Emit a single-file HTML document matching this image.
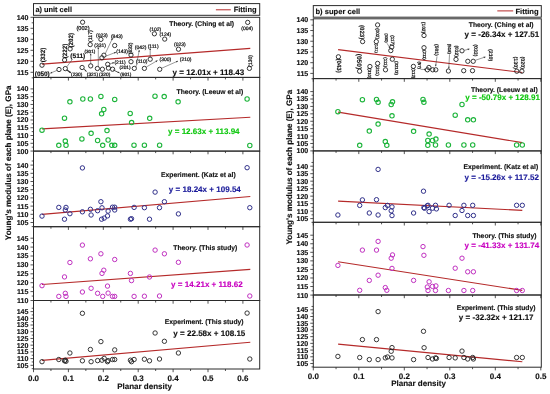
<!DOCTYPE html>
<html><head><meta charset="utf-8"><style>
html,body{margin:0;padding:0;background:#fff;}
body{width:550px;height:394px;overflow:hidden;}
svg{display:block;font-family:"Liberation Sans", sans-serif;will-change:transform;text-rendering:geometricPrecision;}
</style></head><body>
<svg width="550" height="394" viewBox="0 0 550 394">
<rect width="550" height="394" fill="#fff"/>
<rect x="33.50" y="3.60" width="226.20" height="11.70" fill="none" stroke="#2a2a2a" stroke-width="1"/>
<rect x="33.50" y="17.30" width="226.20" height="60.10" fill="none" stroke="#2a2a2a" stroke-width="1"/>
<rect x="33.50" y="77.40" width="226.20" height="73.70" fill="none" stroke="#2a2a2a" stroke-width="1"/>
<rect x="33.50" y="151.10" width="226.20" height="75.60" fill="none" stroke="#2a2a2a" stroke-width="1"/>
<rect x="33.50" y="226.70" width="226.20" height="73.80" fill="none" stroke="#2a2a2a" stroke-width="1"/>
<rect x="33.50" y="300.50" width="226.20" height="68.50" fill="none" stroke="#2a2a2a" stroke-width="1"/>
<line x1="31.70" y1="77.80" x2="33.50" y2="77.80" stroke="#2a2a2a" stroke-width="0.8"/>
<line x1="30.50" y1="72.30" x2="33.50" y2="72.30" stroke="#2a2a2a" stroke-width="0.8"/>
<line x1="31.70" y1="66.80" x2="33.50" y2="66.80" stroke="#2a2a2a" stroke-width="0.8"/>
<line x1="30.50" y1="61.30" x2="33.50" y2="61.30" stroke="#2a2a2a" stroke-width="0.8"/>
<line x1="31.70" y1="55.80" x2="33.50" y2="55.80" stroke="#2a2a2a" stroke-width="0.8"/>
<line x1="30.50" y1="50.30" x2="33.50" y2="50.30" stroke="#2a2a2a" stroke-width="0.8"/>
<line x1="31.70" y1="44.80" x2="33.50" y2="44.80" stroke="#2a2a2a" stroke-width="0.8"/>
<line x1="30.50" y1="39.30" x2="33.50" y2="39.30" stroke="#2a2a2a" stroke-width="0.8"/>
<line x1="31.70" y1="33.80" x2="33.50" y2="33.80" stroke="#2a2a2a" stroke-width="0.8"/>
<line x1="30.50" y1="28.30" x2="33.50" y2="28.30" stroke="#2a2a2a" stroke-width="0.8"/>
<line x1="31.70" y1="22.80" x2="33.50" y2="22.80" stroke="#2a2a2a" stroke-width="0.8"/>
<line x1="30.50" y1="17.30" x2="33.50" y2="17.30" stroke="#2a2a2a" stroke-width="0.8"/>
<text x="28.50" y="19.74" font-size="7.1" font-weight="bold" fill="#111" stroke="#111" stroke-width="0.13" text-anchor="end">140</text>
<text x="28.50" y="30.74" font-size="7.1" font-weight="bold" fill="#111" stroke="#111" stroke-width="0.13" text-anchor="end">135</text>
<text x="28.50" y="41.74" font-size="7.1" font-weight="bold" fill="#111" stroke="#111" stroke-width="0.13" text-anchor="end">130</text>
<text x="28.50" y="52.74" font-size="7.1" font-weight="bold" fill="#111" stroke="#111" stroke-width="0.13" text-anchor="end">125</text>
<text x="28.50" y="63.74" font-size="7.1" font-weight="bold" fill="#111" stroke="#111" stroke-width="0.13" text-anchor="end">120</text>
<text x="28.50" y="74.74" font-size="7.1" font-weight="bold" fill="#111" stroke="#111" stroke-width="0.13" text-anchor="end">115</text>
<line x1="30.50" y1="151.06" x2="33.50" y2="151.06" stroke="#2a2a2a" stroke-width="0.8"/>
<line x1="31.70" y1="147.18" x2="33.50" y2="147.18" stroke="#2a2a2a" stroke-width="0.8"/>
<line x1="30.50" y1="143.29" x2="33.50" y2="143.29" stroke="#2a2a2a" stroke-width="0.8"/>
<line x1="31.70" y1="139.41" x2="33.50" y2="139.41" stroke="#2a2a2a" stroke-width="0.8"/>
<line x1="30.50" y1="135.52" x2="33.50" y2="135.52" stroke="#2a2a2a" stroke-width="0.8"/>
<line x1="31.70" y1="131.63" x2="33.50" y2="131.63" stroke="#2a2a2a" stroke-width="0.8"/>
<line x1="30.50" y1="127.75" x2="33.50" y2="127.75" stroke="#2a2a2a" stroke-width="0.8"/>
<line x1="31.70" y1="123.87" x2="33.50" y2="123.87" stroke="#2a2a2a" stroke-width="0.8"/>
<line x1="30.50" y1="119.98" x2="33.50" y2="119.98" stroke="#2a2a2a" stroke-width="0.8"/>
<line x1="31.70" y1="116.09" x2="33.50" y2="116.09" stroke="#2a2a2a" stroke-width="0.8"/>
<line x1="30.50" y1="112.21" x2="33.50" y2="112.21" stroke="#2a2a2a" stroke-width="0.8"/>
<line x1="31.70" y1="108.33" x2="33.50" y2="108.33" stroke="#2a2a2a" stroke-width="0.8"/>
<line x1="30.50" y1="104.44" x2="33.50" y2="104.44" stroke="#2a2a2a" stroke-width="0.8"/>
<line x1="31.70" y1="100.56" x2="33.50" y2="100.56" stroke="#2a2a2a" stroke-width="0.8"/>
<line x1="30.50" y1="96.67" x2="33.50" y2="96.67" stroke="#2a2a2a" stroke-width="0.8"/>
<line x1="31.70" y1="92.79" x2="33.50" y2="92.79" stroke="#2a2a2a" stroke-width="0.8"/>
<line x1="30.50" y1="88.90" x2="33.50" y2="88.90" stroke="#2a2a2a" stroke-width="0.8"/>
<text x="28.50" y="91.34" font-size="7.1" font-weight="bold" fill="#111" stroke="#111" stroke-width="0.13" text-anchor="end">140</text>
<text x="28.50" y="99.11" font-size="7.1" font-weight="bold" fill="#111" stroke="#111" stroke-width="0.13" text-anchor="end">135</text>
<text x="28.50" y="106.88" font-size="7.1" font-weight="bold" fill="#111" stroke="#111" stroke-width="0.13" text-anchor="end">130</text>
<text x="28.50" y="114.65" font-size="7.1" font-weight="bold" fill="#111" stroke="#111" stroke-width="0.13" text-anchor="end">125</text>
<text x="28.50" y="122.42" font-size="7.1" font-weight="bold" fill="#111" stroke="#111" stroke-width="0.13" text-anchor="end">120</text>
<text x="28.50" y="130.19" font-size="7.1" font-weight="bold" fill="#111" stroke="#111" stroke-width="0.13" text-anchor="end">115</text>
<text x="28.50" y="137.96" font-size="7.1" font-weight="bold" fill="#111" stroke="#111" stroke-width="0.13" text-anchor="end">110</text>
<text x="28.50" y="145.73" font-size="7.1" font-weight="bold" fill="#111" stroke="#111" stroke-width="0.13" text-anchor="end">105</text>
<text x="28.50" y="153.50" font-size="7.1" font-weight="bold" fill="#111" stroke="#111" stroke-width="0.13" text-anchor="end">100</text>
<line x1="31.70" y1="226.60" x2="33.50" y2="226.60" stroke="#2a2a2a" stroke-width="0.8"/>
<line x1="30.50" y1="222.50" x2="33.50" y2="222.50" stroke="#2a2a2a" stroke-width="0.8"/>
<line x1="31.70" y1="218.40" x2="33.50" y2="218.40" stroke="#2a2a2a" stroke-width="0.8"/>
<line x1="30.50" y1="214.30" x2="33.50" y2="214.30" stroke="#2a2a2a" stroke-width="0.8"/>
<line x1="31.70" y1="210.20" x2="33.50" y2="210.20" stroke="#2a2a2a" stroke-width="0.8"/>
<line x1="30.50" y1="206.10" x2="33.50" y2="206.10" stroke="#2a2a2a" stroke-width="0.8"/>
<line x1="31.70" y1="202.00" x2="33.50" y2="202.00" stroke="#2a2a2a" stroke-width="0.8"/>
<line x1="30.50" y1="197.90" x2="33.50" y2="197.90" stroke="#2a2a2a" stroke-width="0.8"/>
<line x1="31.70" y1="193.80" x2="33.50" y2="193.80" stroke="#2a2a2a" stroke-width="0.8"/>
<line x1="30.50" y1="189.70" x2="33.50" y2="189.70" stroke="#2a2a2a" stroke-width="0.8"/>
<line x1="31.70" y1="185.60" x2="33.50" y2="185.60" stroke="#2a2a2a" stroke-width="0.8"/>
<line x1="30.50" y1="181.50" x2="33.50" y2="181.50" stroke="#2a2a2a" stroke-width="0.8"/>
<line x1="31.70" y1="177.40" x2="33.50" y2="177.40" stroke="#2a2a2a" stroke-width="0.8"/>
<line x1="30.50" y1="173.30" x2="33.50" y2="173.30" stroke="#2a2a2a" stroke-width="0.8"/>
<line x1="31.70" y1="169.20" x2="33.50" y2="169.20" stroke="#2a2a2a" stroke-width="0.8"/>
<line x1="30.50" y1="165.10" x2="33.50" y2="165.10" stroke="#2a2a2a" stroke-width="0.8"/>
<line x1="31.70" y1="161.00" x2="33.50" y2="161.00" stroke="#2a2a2a" stroke-width="0.8"/>
<text x="28.50" y="167.54" font-size="7.1" font-weight="bold" fill="#111" stroke="#111" stroke-width="0.13" text-anchor="end">140</text>
<text x="28.50" y="175.74" font-size="7.1" font-weight="bold" fill="#111" stroke="#111" stroke-width="0.13" text-anchor="end">135</text>
<text x="28.50" y="183.94" font-size="7.1" font-weight="bold" fill="#111" stroke="#111" stroke-width="0.13" text-anchor="end">130</text>
<text x="28.50" y="192.14" font-size="7.1" font-weight="bold" fill="#111" stroke="#111" stroke-width="0.13" text-anchor="end">125</text>
<text x="28.50" y="200.34" font-size="7.1" font-weight="bold" fill="#111" stroke="#111" stroke-width="0.13" text-anchor="end">120</text>
<text x="28.50" y="208.54" font-size="7.1" font-weight="bold" fill="#111" stroke="#111" stroke-width="0.13" text-anchor="end">115</text>
<text x="28.50" y="216.74" font-size="7.1" font-weight="bold" fill="#111" stroke="#111" stroke-width="0.13" text-anchor="end">110</text>
<text x="28.50" y="224.94" font-size="7.1" font-weight="bold" fill="#111" stroke="#111" stroke-width="0.13" text-anchor="end">105</text>
<line x1="30.50" y1="300.50" x2="33.50" y2="300.50" stroke="#2a2a2a" stroke-width="0.8"/>
<line x1="31.70" y1="296.05" x2="33.50" y2="296.05" stroke="#2a2a2a" stroke-width="0.8"/>
<line x1="30.50" y1="291.60" x2="33.50" y2="291.60" stroke="#2a2a2a" stroke-width="0.8"/>
<line x1="31.70" y1="287.15" x2="33.50" y2="287.15" stroke="#2a2a2a" stroke-width="0.8"/>
<line x1="30.50" y1="282.70" x2="33.50" y2="282.70" stroke="#2a2a2a" stroke-width="0.8"/>
<line x1="31.70" y1="278.25" x2="33.50" y2="278.25" stroke="#2a2a2a" stroke-width="0.8"/>
<line x1="30.50" y1="273.80" x2="33.50" y2="273.80" stroke="#2a2a2a" stroke-width="0.8"/>
<line x1="31.70" y1="269.35" x2="33.50" y2="269.35" stroke="#2a2a2a" stroke-width="0.8"/>
<line x1="30.50" y1="264.90" x2="33.50" y2="264.90" stroke="#2a2a2a" stroke-width="0.8"/>
<line x1="31.70" y1="260.45" x2="33.50" y2="260.45" stroke="#2a2a2a" stroke-width="0.8"/>
<line x1="30.50" y1="256.00" x2="33.50" y2="256.00" stroke="#2a2a2a" stroke-width="0.8"/>
<line x1="31.70" y1="251.55" x2="33.50" y2="251.55" stroke="#2a2a2a" stroke-width="0.8"/>
<line x1="30.50" y1="247.10" x2="33.50" y2="247.10" stroke="#2a2a2a" stroke-width="0.8"/>
<line x1="31.70" y1="242.65" x2="33.50" y2="242.65" stroke="#2a2a2a" stroke-width="0.8"/>
<line x1="30.50" y1="238.20" x2="33.50" y2="238.20" stroke="#2a2a2a" stroke-width="0.8"/>
<text x="28.50" y="240.64" font-size="7.1" font-weight="bold" fill="#111" stroke="#111" stroke-width="0.13" text-anchor="end">145</text>
<text x="28.50" y="249.54" font-size="7.1" font-weight="bold" fill="#111" stroke="#111" stroke-width="0.13" text-anchor="end">140</text>
<text x="28.50" y="258.44" font-size="7.1" font-weight="bold" fill="#111" stroke="#111" stroke-width="0.13" text-anchor="end">135</text>
<text x="28.50" y="267.34" font-size="7.1" font-weight="bold" fill="#111" stroke="#111" stroke-width="0.13" text-anchor="end">130</text>
<text x="28.50" y="276.24" font-size="7.1" font-weight="bold" fill="#111" stroke="#111" stroke-width="0.13" text-anchor="end">125</text>
<text x="28.50" y="285.14" font-size="7.1" font-weight="bold" fill="#111" stroke="#111" stroke-width="0.13" text-anchor="end">120</text>
<text x="28.50" y="294.04" font-size="7.1" font-weight="bold" fill="#111" stroke="#111" stroke-width="0.13" text-anchor="end">115</text>
<text x="28.50" y="302.94" font-size="7.1" font-weight="bold" fill="#111" stroke="#111" stroke-width="0.13" text-anchor="end">110</text>
<line x1="31.70" y1="368.66" x2="33.50" y2="368.66" stroke="#2a2a2a" stroke-width="0.8"/>
<line x1="30.50" y1="365.30" x2="33.50" y2="365.30" stroke="#2a2a2a" stroke-width="0.8"/>
<line x1="31.70" y1="361.94" x2="33.50" y2="361.94" stroke="#2a2a2a" stroke-width="0.8"/>
<line x1="30.50" y1="358.59" x2="33.50" y2="358.59" stroke="#2a2a2a" stroke-width="0.8"/>
<line x1="31.70" y1="355.23" x2="33.50" y2="355.23" stroke="#2a2a2a" stroke-width="0.8"/>
<line x1="30.50" y1="351.88" x2="33.50" y2="351.88" stroke="#2a2a2a" stroke-width="0.8"/>
<line x1="31.70" y1="348.52" x2="33.50" y2="348.52" stroke="#2a2a2a" stroke-width="0.8"/>
<line x1="30.50" y1="345.16" x2="33.50" y2="345.16" stroke="#2a2a2a" stroke-width="0.8"/>
<line x1="31.70" y1="341.81" x2="33.50" y2="341.81" stroke="#2a2a2a" stroke-width="0.8"/>
<line x1="30.50" y1="338.45" x2="33.50" y2="338.45" stroke="#2a2a2a" stroke-width="0.8"/>
<line x1="31.70" y1="335.09" x2="33.50" y2="335.09" stroke="#2a2a2a" stroke-width="0.8"/>
<line x1="30.50" y1="331.74" x2="33.50" y2="331.74" stroke="#2a2a2a" stroke-width="0.8"/>
<line x1="31.70" y1="328.38" x2="33.50" y2="328.38" stroke="#2a2a2a" stroke-width="0.8"/>
<line x1="30.50" y1="325.03" x2="33.50" y2="325.03" stroke="#2a2a2a" stroke-width="0.8"/>
<line x1="31.70" y1="321.67" x2="33.50" y2="321.67" stroke="#2a2a2a" stroke-width="0.8"/>
<line x1="30.50" y1="318.31" x2="33.50" y2="318.31" stroke="#2a2a2a" stroke-width="0.8"/>
<line x1="31.70" y1="314.96" x2="33.50" y2="314.96" stroke="#2a2a2a" stroke-width="0.8"/>
<line x1="30.50" y1="311.60" x2="33.50" y2="311.60" stroke="#2a2a2a" stroke-width="0.8"/>
<line x1="31.70" y1="308.24" x2="33.50" y2="308.24" stroke="#2a2a2a" stroke-width="0.8"/>
<text x="28.50" y="314.04" font-size="7.1" font-weight="bold" fill="#111" stroke="#111" stroke-width="0.13" text-anchor="end">145</text>
<text x="28.50" y="320.75" font-size="7.1" font-weight="bold" fill="#111" stroke="#111" stroke-width="0.13" text-anchor="end">140</text>
<text x="28.50" y="327.47" font-size="7.1" font-weight="bold" fill="#111" stroke="#111" stroke-width="0.13" text-anchor="end">135</text>
<text x="28.50" y="334.18" font-size="7.1" font-weight="bold" fill="#111" stroke="#111" stroke-width="0.13" text-anchor="end">130</text>
<text x="28.50" y="340.89" font-size="7.1" font-weight="bold" fill="#111" stroke="#111" stroke-width="0.13" text-anchor="end">125</text>
<text x="28.50" y="347.60" font-size="7.1" font-weight="bold" fill="#111" stroke="#111" stroke-width="0.13" text-anchor="end">120</text>
<text x="28.50" y="354.32" font-size="7.1" font-weight="bold" fill="#111" stroke="#111" stroke-width="0.13" text-anchor="end">115</text>
<text x="28.50" y="361.03" font-size="7.1" font-weight="bold" fill="#111" stroke="#111" stroke-width="0.13" text-anchor="end">110</text>
<text x="28.50" y="367.74" font-size="7.1" font-weight="bold" fill="#111" stroke="#111" stroke-width="0.13" text-anchor="end">105</text>
<line x1="33.50" y1="77.40" x2="33.50" y2="80.60" stroke="#2a2a2a" stroke-width="0.8"/>
<line x1="50.95" y1="77.40" x2="50.95" y2="79.40" stroke="#2a2a2a" stroke-width="0.8"/>
<line x1="68.40" y1="77.40" x2="68.40" y2="80.60" stroke="#2a2a2a" stroke-width="0.8"/>
<line x1="85.85" y1="77.40" x2="85.85" y2="79.40" stroke="#2a2a2a" stroke-width="0.8"/>
<line x1="103.30" y1="77.40" x2="103.30" y2="80.60" stroke="#2a2a2a" stroke-width="0.8"/>
<line x1="120.75" y1="77.40" x2="120.75" y2="79.40" stroke="#2a2a2a" stroke-width="0.8"/>
<line x1="138.20" y1="77.40" x2="138.20" y2="80.60" stroke="#2a2a2a" stroke-width="0.8"/>
<line x1="155.65" y1="77.40" x2="155.65" y2="79.40" stroke="#2a2a2a" stroke-width="0.8"/>
<line x1="173.10" y1="77.40" x2="173.10" y2="80.60" stroke="#2a2a2a" stroke-width="0.8"/>
<line x1="190.55" y1="77.40" x2="190.55" y2="79.40" stroke="#2a2a2a" stroke-width="0.8"/>
<line x1="208.00" y1="77.40" x2="208.00" y2="80.60" stroke="#2a2a2a" stroke-width="0.8"/>
<line x1="225.45" y1="77.40" x2="225.45" y2="79.40" stroke="#2a2a2a" stroke-width="0.8"/>
<line x1="242.90" y1="77.40" x2="242.90" y2="80.60" stroke="#2a2a2a" stroke-width="0.8"/>
<line x1="33.50" y1="151.10" x2="33.50" y2="154.30" stroke="#2a2a2a" stroke-width="0.8"/>
<line x1="50.95" y1="151.10" x2="50.95" y2="153.10" stroke="#2a2a2a" stroke-width="0.8"/>
<line x1="68.40" y1="151.10" x2="68.40" y2="154.30" stroke="#2a2a2a" stroke-width="0.8"/>
<line x1="85.85" y1="151.10" x2="85.85" y2="153.10" stroke="#2a2a2a" stroke-width="0.8"/>
<line x1="103.30" y1="151.10" x2="103.30" y2="154.30" stroke="#2a2a2a" stroke-width="0.8"/>
<line x1="120.75" y1="151.10" x2="120.75" y2="153.10" stroke="#2a2a2a" stroke-width="0.8"/>
<line x1="138.20" y1="151.10" x2="138.20" y2="154.30" stroke="#2a2a2a" stroke-width="0.8"/>
<line x1="155.65" y1="151.10" x2="155.65" y2="153.10" stroke="#2a2a2a" stroke-width="0.8"/>
<line x1="173.10" y1="151.10" x2="173.10" y2="154.30" stroke="#2a2a2a" stroke-width="0.8"/>
<line x1="190.55" y1="151.10" x2="190.55" y2="153.10" stroke="#2a2a2a" stroke-width="0.8"/>
<line x1="208.00" y1="151.10" x2="208.00" y2="154.30" stroke="#2a2a2a" stroke-width="0.8"/>
<line x1="225.45" y1="151.10" x2="225.45" y2="153.10" stroke="#2a2a2a" stroke-width="0.8"/>
<line x1="242.90" y1="151.10" x2="242.90" y2="154.30" stroke="#2a2a2a" stroke-width="0.8"/>
<line x1="33.50" y1="226.70" x2="33.50" y2="229.90" stroke="#2a2a2a" stroke-width="0.8"/>
<line x1="50.95" y1="226.70" x2="50.95" y2="228.70" stroke="#2a2a2a" stroke-width="0.8"/>
<line x1="68.40" y1="226.70" x2="68.40" y2="229.90" stroke="#2a2a2a" stroke-width="0.8"/>
<line x1="85.85" y1="226.70" x2="85.85" y2="228.70" stroke="#2a2a2a" stroke-width="0.8"/>
<line x1="103.30" y1="226.70" x2="103.30" y2="229.90" stroke="#2a2a2a" stroke-width="0.8"/>
<line x1="120.75" y1="226.70" x2="120.75" y2="228.70" stroke="#2a2a2a" stroke-width="0.8"/>
<line x1="138.20" y1="226.70" x2="138.20" y2="229.90" stroke="#2a2a2a" stroke-width="0.8"/>
<line x1="155.65" y1="226.70" x2="155.65" y2="228.70" stroke="#2a2a2a" stroke-width="0.8"/>
<line x1="173.10" y1="226.70" x2="173.10" y2="229.90" stroke="#2a2a2a" stroke-width="0.8"/>
<line x1="190.55" y1="226.70" x2="190.55" y2="228.70" stroke="#2a2a2a" stroke-width="0.8"/>
<line x1="208.00" y1="226.70" x2="208.00" y2="229.90" stroke="#2a2a2a" stroke-width="0.8"/>
<line x1="225.45" y1="226.70" x2="225.45" y2="228.70" stroke="#2a2a2a" stroke-width="0.8"/>
<line x1="242.90" y1="226.70" x2="242.90" y2="229.90" stroke="#2a2a2a" stroke-width="0.8"/>
<line x1="33.50" y1="300.50" x2="33.50" y2="303.70" stroke="#2a2a2a" stroke-width="0.8"/>
<line x1="50.95" y1="300.50" x2="50.95" y2="302.50" stroke="#2a2a2a" stroke-width="0.8"/>
<line x1="68.40" y1="300.50" x2="68.40" y2="303.70" stroke="#2a2a2a" stroke-width="0.8"/>
<line x1="85.85" y1="300.50" x2="85.85" y2="302.50" stroke="#2a2a2a" stroke-width="0.8"/>
<line x1="103.30" y1="300.50" x2="103.30" y2="303.70" stroke="#2a2a2a" stroke-width="0.8"/>
<line x1="120.75" y1="300.50" x2="120.75" y2="302.50" stroke="#2a2a2a" stroke-width="0.8"/>
<line x1="138.20" y1="300.50" x2="138.20" y2="303.70" stroke="#2a2a2a" stroke-width="0.8"/>
<line x1="155.65" y1="300.50" x2="155.65" y2="302.50" stroke="#2a2a2a" stroke-width="0.8"/>
<line x1="173.10" y1="300.50" x2="173.10" y2="303.70" stroke="#2a2a2a" stroke-width="0.8"/>
<line x1="190.55" y1="300.50" x2="190.55" y2="302.50" stroke="#2a2a2a" stroke-width="0.8"/>
<line x1="208.00" y1="300.50" x2="208.00" y2="303.70" stroke="#2a2a2a" stroke-width="0.8"/>
<line x1="225.45" y1="300.50" x2="225.45" y2="302.50" stroke="#2a2a2a" stroke-width="0.8"/>
<line x1="242.90" y1="300.50" x2="242.90" y2="303.70" stroke="#2a2a2a" stroke-width="0.8"/>
<line x1="33.50" y1="369.00" x2="33.50" y2="372.20" stroke="#2a2a2a" stroke-width="0.8"/>
<line x1="50.95" y1="369.00" x2="50.95" y2="371.00" stroke="#2a2a2a" stroke-width="0.8"/>
<line x1="68.40" y1="369.00" x2="68.40" y2="372.20" stroke="#2a2a2a" stroke-width="0.8"/>
<line x1="85.85" y1="369.00" x2="85.85" y2="371.00" stroke="#2a2a2a" stroke-width="0.8"/>
<line x1="103.30" y1="369.00" x2="103.30" y2="372.20" stroke="#2a2a2a" stroke-width="0.8"/>
<line x1="120.75" y1="369.00" x2="120.75" y2="371.00" stroke="#2a2a2a" stroke-width="0.8"/>
<line x1="138.20" y1="369.00" x2="138.20" y2="372.20" stroke="#2a2a2a" stroke-width="0.8"/>
<line x1="155.65" y1="369.00" x2="155.65" y2="371.00" stroke="#2a2a2a" stroke-width="0.8"/>
<line x1="173.10" y1="369.00" x2="173.10" y2="372.20" stroke="#2a2a2a" stroke-width="0.8"/>
<line x1="190.55" y1="369.00" x2="190.55" y2="371.00" stroke="#2a2a2a" stroke-width="0.8"/>
<line x1="208.00" y1="369.00" x2="208.00" y2="372.20" stroke="#2a2a2a" stroke-width="0.8"/>
<line x1="225.45" y1="369.00" x2="225.45" y2="371.00" stroke="#2a2a2a" stroke-width="0.8"/>
<line x1="242.90" y1="369.00" x2="242.90" y2="372.20" stroke="#2a2a2a" stroke-width="0.8"/>
<text x="33.50" y="380.55" font-size="8.0" font-weight="bold" fill="#111" stroke="#111" stroke-width="0.13" text-anchor="middle">0.0</text>
<text x="68.40" y="380.55" font-size="8.0" font-weight="bold" fill="#111" stroke="#111" stroke-width="0.13" text-anchor="middle">0.1</text>
<text x="103.30" y="380.55" font-size="8.0" font-weight="bold" fill="#111" stroke="#111" stroke-width="0.13" text-anchor="middle">0.2</text>
<text x="138.20" y="380.55" font-size="8.0" font-weight="bold" fill="#111" stroke="#111" stroke-width="0.13" text-anchor="middle">0.3</text>
<text x="173.10" y="380.55" font-size="8.0" font-weight="bold" fill="#111" stroke="#111" stroke-width="0.13" text-anchor="middle">0.4</text>
<text x="208.00" y="380.55" font-size="8.0" font-weight="bold" fill="#111" stroke="#111" stroke-width="0.13" text-anchor="middle">0.5</text>
<text x="242.90" y="380.55" font-size="8.0" font-weight="bold" fill="#111" stroke="#111" stroke-width="0.13" text-anchor="middle">0.6</text>
<rect x="313.30" y="5.60" width="228.00" height="11.60" fill="none" stroke="#2a2a2a" stroke-width="1"/>
<rect x="313.30" y="18.80" width="228.00" height="59.80" fill="none" stroke="#2a2a2a" stroke-width="1"/>
<rect x="313.30" y="78.60" width="228.00" height="72.30" fill="none" stroke="#2a2a2a" stroke-width="1"/>
<rect x="313.30" y="150.90" width="228.00" height="71.40" fill="none" stroke="#2a2a2a" stroke-width="1"/>
<rect x="313.30" y="222.30" width="228.00" height="72.70" fill="none" stroke="#2a2a2a" stroke-width="1"/>
<rect x="313.30" y="295.00" width="228.00" height="72.20" fill="none" stroke="#2a2a2a" stroke-width="1"/>
<line x1="311.50" y1="78.76" x2="313.30" y2="78.76" stroke="#2a2a2a" stroke-width="0.8"/>
<line x1="310.30" y1="73.40" x2="313.30" y2="73.40" stroke="#2a2a2a" stroke-width="0.8"/>
<line x1="311.50" y1="68.04" x2="313.30" y2="68.04" stroke="#2a2a2a" stroke-width="0.8"/>
<line x1="310.30" y1="62.68" x2="313.30" y2="62.68" stroke="#2a2a2a" stroke-width="0.8"/>
<line x1="311.50" y1="57.32" x2="313.30" y2="57.32" stroke="#2a2a2a" stroke-width="0.8"/>
<line x1="310.30" y1="51.96" x2="313.30" y2="51.96" stroke="#2a2a2a" stroke-width="0.8"/>
<line x1="311.50" y1="46.60" x2="313.30" y2="46.60" stroke="#2a2a2a" stroke-width="0.8"/>
<line x1="310.30" y1="41.24" x2="313.30" y2="41.24" stroke="#2a2a2a" stroke-width="0.8"/>
<line x1="311.50" y1="35.88" x2="313.30" y2="35.88" stroke="#2a2a2a" stroke-width="0.8"/>
<line x1="310.30" y1="30.52" x2="313.30" y2="30.52" stroke="#2a2a2a" stroke-width="0.8"/>
<line x1="311.50" y1="25.16" x2="313.30" y2="25.16" stroke="#2a2a2a" stroke-width="0.8"/>
<line x1="310.30" y1="19.80" x2="313.30" y2="19.80" stroke="#2a2a2a" stroke-width="0.8"/>
<text x="308.30" y="22.24" font-size="7.1" font-weight="bold" fill="#111" stroke="#111" stroke-width="0.13" text-anchor="end">140</text>
<text x="308.30" y="32.96" font-size="7.1" font-weight="bold" fill="#111" stroke="#111" stroke-width="0.13" text-anchor="end">135</text>
<text x="308.30" y="43.68" font-size="7.1" font-weight="bold" fill="#111" stroke="#111" stroke-width="0.13" text-anchor="end">130</text>
<text x="308.30" y="54.40" font-size="7.1" font-weight="bold" fill="#111" stroke="#111" stroke-width="0.13" text-anchor="end">125</text>
<text x="308.30" y="65.12" font-size="7.1" font-weight="bold" fill="#111" stroke="#111" stroke-width="0.13" text-anchor="end">120</text>
<text x="308.30" y="75.84" font-size="7.1" font-weight="bold" fill="#111" stroke="#111" stroke-width="0.13" text-anchor="end">115</text>
<line x1="310.30" y1="150.90" x2="313.30" y2="150.90" stroke="#2a2a2a" stroke-width="0.8"/>
<line x1="311.50" y1="147.19" x2="313.30" y2="147.19" stroke="#2a2a2a" stroke-width="0.8"/>
<line x1="310.30" y1="143.49" x2="313.30" y2="143.49" stroke="#2a2a2a" stroke-width="0.8"/>
<line x1="311.50" y1="139.78" x2="313.30" y2="139.78" stroke="#2a2a2a" stroke-width="0.8"/>
<line x1="310.30" y1="136.07" x2="313.30" y2="136.07" stroke="#2a2a2a" stroke-width="0.8"/>
<line x1="311.50" y1="132.37" x2="313.30" y2="132.37" stroke="#2a2a2a" stroke-width="0.8"/>
<line x1="310.30" y1="128.66" x2="313.30" y2="128.66" stroke="#2a2a2a" stroke-width="0.8"/>
<line x1="311.50" y1="124.96" x2="313.30" y2="124.96" stroke="#2a2a2a" stroke-width="0.8"/>
<line x1="310.30" y1="121.25" x2="313.30" y2="121.25" stroke="#2a2a2a" stroke-width="0.8"/>
<line x1="311.50" y1="117.54" x2="313.30" y2="117.54" stroke="#2a2a2a" stroke-width="0.8"/>
<line x1="310.30" y1="113.84" x2="313.30" y2="113.84" stroke="#2a2a2a" stroke-width="0.8"/>
<line x1="311.50" y1="110.13" x2="313.30" y2="110.13" stroke="#2a2a2a" stroke-width="0.8"/>
<line x1="310.30" y1="106.42" x2="313.30" y2="106.42" stroke="#2a2a2a" stroke-width="0.8"/>
<line x1="311.50" y1="102.72" x2="313.30" y2="102.72" stroke="#2a2a2a" stroke-width="0.8"/>
<line x1="310.30" y1="99.01" x2="313.30" y2="99.01" stroke="#2a2a2a" stroke-width="0.8"/>
<line x1="311.50" y1="95.31" x2="313.30" y2="95.31" stroke="#2a2a2a" stroke-width="0.8"/>
<line x1="310.30" y1="91.60" x2="313.30" y2="91.60" stroke="#2a2a2a" stroke-width="0.8"/>
<text x="308.30" y="94.04" font-size="7.1" font-weight="bold" fill="#111" stroke="#111" stroke-width="0.13" text-anchor="end">140</text>
<text x="308.30" y="101.45" font-size="7.1" font-weight="bold" fill="#111" stroke="#111" stroke-width="0.13" text-anchor="end">135</text>
<text x="308.30" y="108.87" font-size="7.1" font-weight="bold" fill="#111" stroke="#111" stroke-width="0.13" text-anchor="end">130</text>
<text x="308.30" y="116.28" font-size="7.1" font-weight="bold" fill="#111" stroke="#111" stroke-width="0.13" text-anchor="end">125</text>
<text x="308.30" y="123.69" font-size="7.1" font-weight="bold" fill="#111" stroke="#111" stroke-width="0.13" text-anchor="end">120</text>
<text x="308.30" y="131.10" font-size="7.1" font-weight="bold" fill="#111" stroke="#111" stroke-width="0.13" text-anchor="end">115</text>
<text x="308.30" y="138.52" font-size="7.1" font-weight="bold" fill="#111" stroke="#111" stroke-width="0.13" text-anchor="end">110</text>
<text x="308.30" y="145.93" font-size="7.1" font-weight="bold" fill="#111" stroke="#111" stroke-width="0.13" text-anchor="end">105</text>
<text x="308.30" y="153.34" font-size="7.1" font-weight="bold" fill="#111" stroke="#111" stroke-width="0.13" text-anchor="end">100</text>
<line x1="311.50" y1="222.34" x2="313.30" y2="222.34" stroke="#2a2a2a" stroke-width="0.8"/>
<line x1="310.30" y1="218.59" x2="313.30" y2="218.59" stroke="#2a2a2a" stroke-width="0.8"/>
<line x1="311.50" y1="214.85" x2="313.30" y2="214.85" stroke="#2a2a2a" stroke-width="0.8"/>
<line x1="310.30" y1="211.11" x2="313.30" y2="211.11" stroke="#2a2a2a" stroke-width="0.8"/>
<line x1="311.50" y1="207.37" x2="313.30" y2="207.37" stroke="#2a2a2a" stroke-width="0.8"/>
<line x1="310.30" y1="203.62" x2="313.30" y2="203.62" stroke="#2a2a2a" stroke-width="0.8"/>
<line x1="311.50" y1="199.88" x2="313.30" y2="199.88" stroke="#2a2a2a" stroke-width="0.8"/>
<line x1="310.30" y1="196.14" x2="313.30" y2="196.14" stroke="#2a2a2a" stroke-width="0.8"/>
<line x1="311.50" y1="192.40" x2="313.30" y2="192.40" stroke="#2a2a2a" stroke-width="0.8"/>
<line x1="310.30" y1="188.66" x2="313.30" y2="188.66" stroke="#2a2a2a" stroke-width="0.8"/>
<line x1="311.50" y1="184.91" x2="313.30" y2="184.91" stroke="#2a2a2a" stroke-width="0.8"/>
<line x1="310.30" y1="181.17" x2="313.30" y2="181.17" stroke="#2a2a2a" stroke-width="0.8"/>
<line x1="311.50" y1="177.43" x2="313.30" y2="177.43" stroke="#2a2a2a" stroke-width="0.8"/>
<line x1="310.30" y1="173.69" x2="313.30" y2="173.69" stroke="#2a2a2a" stroke-width="0.8"/>
<line x1="311.50" y1="169.94" x2="313.30" y2="169.94" stroke="#2a2a2a" stroke-width="0.8"/>
<line x1="310.30" y1="166.20" x2="313.30" y2="166.20" stroke="#2a2a2a" stroke-width="0.8"/>
<line x1="311.50" y1="162.46" x2="313.30" y2="162.46" stroke="#2a2a2a" stroke-width="0.8"/>
<text x="308.30" y="168.64" font-size="7.1" font-weight="bold" fill="#111" stroke="#111" stroke-width="0.13" text-anchor="end">140</text>
<text x="308.30" y="176.13" font-size="7.1" font-weight="bold" fill="#111" stroke="#111" stroke-width="0.13" text-anchor="end">135</text>
<text x="308.30" y="183.61" font-size="7.1" font-weight="bold" fill="#111" stroke="#111" stroke-width="0.13" text-anchor="end">130</text>
<text x="308.30" y="191.10" font-size="7.1" font-weight="bold" fill="#111" stroke="#111" stroke-width="0.13" text-anchor="end">125</text>
<text x="308.30" y="198.58" font-size="7.1" font-weight="bold" fill="#111" stroke="#111" stroke-width="0.13" text-anchor="end">120</text>
<text x="308.30" y="206.07" font-size="7.1" font-weight="bold" fill="#111" stroke="#111" stroke-width="0.13" text-anchor="end">115</text>
<text x="308.30" y="213.55" font-size="7.1" font-weight="bold" fill="#111" stroke="#111" stroke-width="0.13" text-anchor="end">110</text>
<text x="308.30" y="221.04" font-size="7.1" font-weight="bold" fill="#111" stroke="#111" stroke-width="0.13" text-anchor="end">105</text>
<line x1="310.30" y1="295.08" x2="313.30" y2="295.08" stroke="#2a2a2a" stroke-width="0.8"/>
<line x1="311.50" y1="290.81" x2="313.30" y2="290.81" stroke="#2a2a2a" stroke-width="0.8"/>
<line x1="310.30" y1="286.53" x2="313.30" y2="286.53" stroke="#2a2a2a" stroke-width="0.8"/>
<line x1="311.50" y1="282.25" x2="313.30" y2="282.25" stroke="#2a2a2a" stroke-width="0.8"/>
<line x1="310.30" y1="277.97" x2="313.30" y2="277.97" stroke="#2a2a2a" stroke-width="0.8"/>
<line x1="311.50" y1="273.70" x2="313.30" y2="273.70" stroke="#2a2a2a" stroke-width="0.8"/>
<line x1="310.30" y1="269.42" x2="313.30" y2="269.42" stroke="#2a2a2a" stroke-width="0.8"/>
<line x1="311.50" y1="265.14" x2="313.30" y2="265.14" stroke="#2a2a2a" stroke-width="0.8"/>
<line x1="310.30" y1="260.87" x2="313.30" y2="260.87" stroke="#2a2a2a" stroke-width="0.8"/>
<line x1="311.50" y1="256.59" x2="313.30" y2="256.59" stroke="#2a2a2a" stroke-width="0.8"/>
<line x1="310.30" y1="252.31" x2="313.30" y2="252.31" stroke="#2a2a2a" stroke-width="0.8"/>
<line x1="311.50" y1="248.03" x2="313.30" y2="248.03" stroke="#2a2a2a" stroke-width="0.8"/>
<line x1="310.30" y1="243.75" x2="313.30" y2="243.75" stroke="#2a2a2a" stroke-width="0.8"/>
<line x1="311.50" y1="239.48" x2="313.30" y2="239.48" stroke="#2a2a2a" stroke-width="0.8"/>
<line x1="310.30" y1="235.20" x2="313.30" y2="235.20" stroke="#2a2a2a" stroke-width="0.8"/>
<text x="308.30" y="237.64" font-size="7.1" font-weight="bold" fill="#111" stroke="#111" stroke-width="0.13" text-anchor="end">145</text>
<text x="308.30" y="246.20" font-size="7.1" font-weight="bold" fill="#111" stroke="#111" stroke-width="0.13" text-anchor="end">140</text>
<text x="308.30" y="254.75" font-size="7.1" font-weight="bold" fill="#111" stroke="#111" stroke-width="0.13" text-anchor="end">135</text>
<text x="308.30" y="263.31" font-size="7.1" font-weight="bold" fill="#111" stroke="#111" stroke-width="0.13" text-anchor="end">130</text>
<text x="308.30" y="271.86" font-size="7.1" font-weight="bold" fill="#111" stroke="#111" stroke-width="0.13" text-anchor="end">125</text>
<text x="308.30" y="280.42" font-size="7.1" font-weight="bold" fill="#111" stroke="#111" stroke-width="0.13" text-anchor="end">120</text>
<text x="308.30" y="288.97" font-size="7.1" font-weight="bold" fill="#111" stroke="#111" stroke-width="0.13" text-anchor="end">115</text>
<text x="308.30" y="297.53" font-size="7.1" font-weight="bold" fill="#111" stroke="#111" stroke-width="0.13" text-anchor="end">110</text>
<line x1="311.50" y1="366.86" x2="313.30" y2="366.86" stroke="#2a2a2a" stroke-width="0.8"/>
<line x1="310.30" y1="363.50" x2="313.30" y2="363.50" stroke="#2a2a2a" stroke-width="0.8"/>
<line x1="311.50" y1="360.14" x2="313.30" y2="360.14" stroke="#2a2a2a" stroke-width="0.8"/>
<line x1="310.30" y1="356.79" x2="313.30" y2="356.79" stroke="#2a2a2a" stroke-width="0.8"/>
<line x1="311.50" y1="353.43" x2="313.30" y2="353.43" stroke="#2a2a2a" stroke-width="0.8"/>
<line x1="310.30" y1="350.07" x2="313.30" y2="350.07" stroke="#2a2a2a" stroke-width="0.8"/>
<line x1="311.50" y1="346.72" x2="313.30" y2="346.72" stroke="#2a2a2a" stroke-width="0.8"/>
<line x1="310.30" y1="343.36" x2="313.30" y2="343.36" stroke="#2a2a2a" stroke-width="0.8"/>
<line x1="311.50" y1="340.01" x2="313.30" y2="340.01" stroke="#2a2a2a" stroke-width="0.8"/>
<line x1="310.30" y1="336.65" x2="313.30" y2="336.65" stroke="#2a2a2a" stroke-width="0.8"/>
<line x1="311.50" y1="333.29" x2="313.30" y2="333.29" stroke="#2a2a2a" stroke-width="0.8"/>
<line x1="310.30" y1="329.94" x2="313.30" y2="329.94" stroke="#2a2a2a" stroke-width="0.8"/>
<line x1="311.50" y1="326.58" x2="313.30" y2="326.58" stroke="#2a2a2a" stroke-width="0.8"/>
<line x1="310.30" y1="323.23" x2="313.30" y2="323.23" stroke="#2a2a2a" stroke-width="0.8"/>
<line x1="311.50" y1="319.87" x2="313.30" y2="319.87" stroke="#2a2a2a" stroke-width="0.8"/>
<line x1="310.30" y1="316.51" x2="313.30" y2="316.51" stroke="#2a2a2a" stroke-width="0.8"/>
<line x1="311.50" y1="313.16" x2="313.30" y2="313.16" stroke="#2a2a2a" stroke-width="0.8"/>
<line x1="310.30" y1="309.80" x2="313.30" y2="309.80" stroke="#2a2a2a" stroke-width="0.8"/>
<line x1="311.50" y1="306.44" x2="313.30" y2="306.44" stroke="#2a2a2a" stroke-width="0.8"/>
<text x="308.30" y="312.24" font-size="7.1" font-weight="bold" fill="#111" stroke="#111" stroke-width="0.13" text-anchor="end">145</text>
<text x="308.30" y="318.95" font-size="7.1" font-weight="bold" fill="#111" stroke="#111" stroke-width="0.13" text-anchor="end">140</text>
<text x="308.30" y="325.67" font-size="7.1" font-weight="bold" fill="#111" stroke="#111" stroke-width="0.13" text-anchor="end">135</text>
<text x="308.30" y="332.38" font-size="7.1" font-weight="bold" fill="#111" stroke="#111" stroke-width="0.13" text-anchor="end">130</text>
<text x="308.30" y="339.09" font-size="7.1" font-weight="bold" fill="#111" stroke="#111" stroke-width="0.13" text-anchor="end">125</text>
<text x="308.30" y="345.80" font-size="7.1" font-weight="bold" fill="#111" stroke="#111" stroke-width="0.13" text-anchor="end">120</text>
<text x="308.30" y="352.52" font-size="7.1" font-weight="bold" fill="#111" stroke="#111" stroke-width="0.13" text-anchor="end">115</text>
<text x="308.30" y="359.23" font-size="7.1" font-weight="bold" fill="#111" stroke="#111" stroke-width="0.13" text-anchor="end">110</text>
<text x="308.30" y="365.94" font-size="7.1" font-weight="bold" fill="#111" stroke="#111" stroke-width="0.13" text-anchor="end">105</text>
<line x1="313.30" y1="78.60" x2="313.30" y2="81.80" stroke="#2a2a2a" stroke-width="0.8"/>
<line x1="336.05" y1="78.60" x2="336.05" y2="80.60" stroke="#2a2a2a" stroke-width="0.8"/>
<line x1="358.80" y1="78.60" x2="358.80" y2="81.80" stroke="#2a2a2a" stroke-width="0.8"/>
<line x1="381.55" y1="78.60" x2="381.55" y2="80.60" stroke="#2a2a2a" stroke-width="0.8"/>
<line x1="404.30" y1="78.60" x2="404.30" y2="81.80" stroke="#2a2a2a" stroke-width="0.8"/>
<line x1="427.05" y1="78.60" x2="427.05" y2="80.60" stroke="#2a2a2a" stroke-width="0.8"/>
<line x1="449.80" y1="78.60" x2="449.80" y2="81.80" stroke="#2a2a2a" stroke-width="0.8"/>
<line x1="472.55" y1="78.60" x2="472.55" y2="80.60" stroke="#2a2a2a" stroke-width="0.8"/>
<line x1="495.30" y1="78.60" x2="495.30" y2="81.80" stroke="#2a2a2a" stroke-width="0.8"/>
<line x1="518.05" y1="78.60" x2="518.05" y2="80.60" stroke="#2a2a2a" stroke-width="0.8"/>
<line x1="540.80" y1="78.60" x2="540.80" y2="81.80" stroke="#2a2a2a" stroke-width="0.8"/>
<line x1="313.30" y1="150.90" x2="313.30" y2="154.10" stroke="#2a2a2a" stroke-width="0.8"/>
<line x1="336.05" y1="150.90" x2="336.05" y2="152.90" stroke="#2a2a2a" stroke-width="0.8"/>
<line x1="358.80" y1="150.90" x2="358.80" y2="154.10" stroke="#2a2a2a" stroke-width="0.8"/>
<line x1="381.55" y1="150.90" x2="381.55" y2="152.90" stroke="#2a2a2a" stroke-width="0.8"/>
<line x1="404.30" y1="150.90" x2="404.30" y2="154.10" stroke="#2a2a2a" stroke-width="0.8"/>
<line x1="427.05" y1="150.90" x2="427.05" y2="152.90" stroke="#2a2a2a" stroke-width="0.8"/>
<line x1="449.80" y1="150.90" x2="449.80" y2="154.10" stroke="#2a2a2a" stroke-width="0.8"/>
<line x1="472.55" y1="150.90" x2="472.55" y2="152.90" stroke="#2a2a2a" stroke-width="0.8"/>
<line x1="495.30" y1="150.90" x2="495.30" y2="154.10" stroke="#2a2a2a" stroke-width="0.8"/>
<line x1="518.05" y1="150.90" x2="518.05" y2="152.90" stroke="#2a2a2a" stroke-width="0.8"/>
<line x1="540.80" y1="150.90" x2="540.80" y2="154.10" stroke="#2a2a2a" stroke-width="0.8"/>
<line x1="313.30" y1="222.30" x2="313.30" y2="225.50" stroke="#2a2a2a" stroke-width="0.8"/>
<line x1="336.05" y1="222.30" x2="336.05" y2="224.30" stroke="#2a2a2a" stroke-width="0.8"/>
<line x1="358.80" y1="222.30" x2="358.80" y2="225.50" stroke="#2a2a2a" stroke-width="0.8"/>
<line x1="381.55" y1="222.30" x2="381.55" y2="224.30" stroke="#2a2a2a" stroke-width="0.8"/>
<line x1="404.30" y1="222.30" x2="404.30" y2="225.50" stroke="#2a2a2a" stroke-width="0.8"/>
<line x1="427.05" y1="222.30" x2="427.05" y2="224.30" stroke="#2a2a2a" stroke-width="0.8"/>
<line x1="449.80" y1="222.30" x2="449.80" y2="225.50" stroke="#2a2a2a" stroke-width="0.8"/>
<line x1="472.55" y1="222.30" x2="472.55" y2="224.30" stroke="#2a2a2a" stroke-width="0.8"/>
<line x1="495.30" y1="222.30" x2="495.30" y2="225.50" stroke="#2a2a2a" stroke-width="0.8"/>
<line x1="518.05" y1="222.30" x2="518.05" y2="224.30" stroke="#2a2a2a" stroke-width="0.8"/>
<line x1="540.80" y1="222.30" x2="540.80" y2="225.50" stroke="#2a2a2a" stroke-width="0.8"/>
<line x1="313.30" y1="295.00" x2="313.30" y2="298.20" stroke="#2a2a2a" stroke-width="0.8"/>
<line x1="336.05" y1="295.00" x2="336.05" y2="297.00" stroke="#2a2a2a" stroke-width="0.8"/>
<line x1="358.80" y1="295.00" x2="358.80" y2="298.20" stroke="#2a2a2a" stroke-width="0.8"/>
<line x1="381.55" y1="295.00" x2="381.55" y2="297.00" stroke="#2a2a2a" stroke-width="0.8"/>
<line x1="404.30" y1="295.00" x2="404.30" y2="298.20" stroke="#2a2a2a" stroke-width="0.8"/>
<line x1="427.05" y1="295.00" x2="427.05" y2="297.00" stroke="#2a2a2a" stroke-width="0.8"/>
<line x1="449.80" y1="295.00" x2="449.80" y2="298.20" stroke="#2a2a2a" stroke-width="0.8"/>
<line x1="472.55" y1="295.00" x2="472.55" y2="297.00" stroke="#2a2a2a" stroke-width="0.8"/>
<line x1="495.30" y1="295.00" x2="495.30" y2="298.20" stroke="#2a2a2a" stroke-width="0.8"/>
<line x1="518.05" y1="295.00" x2="518.05" y2="297.00" stroke="#2a2a2a" stroke-width="0.8"/>
<line x1="540.80" y1="295.00" x2="540.80" y2="298.20" stroke="#2a2a2a" stroke-width="0.8"/>
<line x1="313.30" y1="367.20" x2="313.30" y2="370.40" stroke="#2a2a2a" stroke-width="0.8"/>
<line x1="336.05" y1="367.20" x2="336.05" y2="369.20" stroke="#2a2a2a" stroke-width="0.8"/>
<line x1="358.80" y1="367.20" x2="358.80" y2="370.40" stroke="#2a2a2a" stroke-width="0.8"/>
<line x1="381.55" y1="367.20" x2="381.55" y2="369.20" stroke="#2a2a2a" stroke-width="0.8"/>
<line x1="404.30" y1="367.20" x2="404.30" y2="370.40" stroke="#2a2a2a" stroke-width="0.8"/>
<line x1="427.05" y1="367.20" x2="427.05" y2="369.20" stroke="#2a2a2a" stroke-width="0.8"/>
<line x1="449.80" y1="367.20" x2="449.80" y2="370.40" stroke="#2a2a2a" stroke-width="0.8"/>
<line x1="472.55" y1="367.20" x2="472.55" y2="369.20" stroke="#2a2a2a" stroke-width="0.8"/>
<line x1="495.30" y1="367.20" x2="495.30" y2="370.40" stroke="#2a2a2a" stroke-width="0.8"/>
<line x1="518.05" y1="367.20" x2="518.05" y2="369.20" stroke="#2a2a2a" stroke-width="0.8"/>
<line x1="540.80" y1="367.20" x2="540.80" y2="370.40" stroke="#2a2a2a" stroke-width="0.8"/>
<text x="313.30" y="378.75" font-size="8.0" font-weight="bold" fill="#111" stroke="#111" stroke-width="0.13" text-anchor="middle">0.0</text>
<text x="358.80" y="378.75" font-size="8.0" font-weight="bold" fill="#111" stroke="#111" stroke-width="0.13" text-anchor="middle">0.1</text>
<text x="404.30" y="378.75" font-size="8.0" font-weight="bold" fill="#111" stroke="#111" stroke-width="0.13" text-anchor="middle">0.2</text>
<text x="449.80" y="378.75" font-size="8.0" font-weight="bold" fill="#111" stroke="#111" stroke-width="0.13" text-anchor="middle">0.3</text>
<text x="495.30" y="378.75" font-size="8.0" font-weight="bold" fill="#111" stroke="#111" stroke-width="0.13" text-anchor="middle">0.4</text>
<text x="540.80" y="378.75" font-size="8.0" font-weight="bold" fill="#111" stroke="#111" stroke-width="0.13" text-anchor="middle">0.5</text>
<text x="35.40" y="12.05" font-size="7.4" font-weight="bold" fill="#111" stroke="#111" stroke-width="0.13" text-anchor="start">a) unit cell</text>
<line x1="215.90" y1="9.80" x2="230.80" y2="9.80" stroke="#b52a2a" stroke-width="1.0"/>
<text x="233.70" y="12.18" font-size="7.5" font-weight="bold" fill="#111" stroke="#111" stroke-width="0.13" text-anchor="start">Fitting</text>
<text x="315.40" y="14.01" font-size="7.6" font-weight="bold" fill="#111" stroke="#111" stroke-width="0.13" text-anchor="start">b) super cell</text>
<line x1="497.30" y1="10.90" x2="513.20" y2="10.90" stroke="#b52a2a" stroke-width="1.0"/>
<text x="515.40" y="13.61" font-size="7.6" font-weight="bold" fill="#111" stroke="#111" stroke-width="0.13" text-anchor="start">Fitting</text>
<text x="144.50" y="388.75" font-size="8.0" font-weight="bold" fill="#111" stroke="#111" stroke-width="0.13" text-anchor="middle">Planar density</text>
<text x="418.50" y="386.15" font-size="8.0" font-weight="bold" fill="#111" stroke="#111" stroke-width="0.13" text-anchor="middle">Planar density</text>
<text x="7.80" y="165.59" font-size="8.1" font-weight="bold" fill="#111" stroke="#111" stroke-width="0.13" text-anchor="middle" transform="rotate(-90 7.80 162.80)">Young's modulus of each plane (E), GPa</text>
<text x="289.30" y="169.99" font-size="8.1" font-weight="bold" fill="#111" stroke="#111" stroke-width="0.13" text-anchor="middle" transform="rotate(-90 289.30 167.20)">Young's modulus of each plane (E), GPa</text>
<line x1="42.00" y1="64.11" x2="250.30" y2="48.34" stroke="#b52a2a" stroke-width="1.15"/>
<line x1="42.00" y1="128.92" x2="250.30" y2="117.20" stroke="#b52a2a" stroke-width="1.15"/>
<line x1="42.00" y1="214.33" x2="250.30" y2="196.47" stroke="#b52a2a" stroke-width="1.15"/>
<line x1="42.00" y1="284.54" x2="250.30" y2="269.44" stroke="#b52a2a" stroke-width="1.15"/>
<line x1="42.00" y1="360.33" x2="250.30" y2="342.24" stroke="#b52a2a" stroke-width="1.15"/>
<line x1="338.10" y1="49.66" x2="522.30" y2="72.52" stroke="#b52a2a" stroke-width="1.15"/>
<line x1="338.10" y1="112.14" x2="522.30" y2="142.63" stroke="#b52a2a" stroke-width="1.15"/>
<line x1="338.10" y1="201.10" x2="522.30" y2="210.35" stroke="#b52a2a" stroke-width="1.15"/>
<line x1="338.10" y1="261.74" x2="522.30" y2="290.37" stroke="#b52a2a" stroke-width="1.15"/>
<line x1="338.10" y1="344.16" x2="522.30" y2="361.72" stroke="#b52a2a" stroke-width="1.15"/>
<circle cx="42.00" cy="65.20" r="2.15" fill="none" stroke="#222" stroke-width="0.9"/>
<circle cx="59.00" cy="69.50" r="2.15" fill="none" stroke="#222" stroke-width="0.9"/>
<circle cx="64.60" cy="60.00" r="2.15" fill="none" stroke="#222" stroke-width="0.9"/>
<circle cx="65.30" cy="68.60" r="2.15" fill="none" stroke="#222" stroke-width="0.9"/>
<circle cx="70.10" cy="48.90" r="2.15" fill="none" stroke="#222" stroke-width="0.9"/>
<circle cx="82.60" cy="22.20" r="2.15" fill="none" stroke="#222" stroke-width="0.9"/>
<circle cx="82.10" cy="67.50" r="2.15" fill="none" stroke="#222" stroke-width="0.9"/>
<circle cx="90.20" cy="44.60" r="2.15" fill="none" stroke="#222" stroke-width="0.9"/>
<circle cx="90.70" cy="65.90" r="2.15" fill="none" stroke="#222" stroke-width="0.9"/>
<circle cx="97.40" cy="68.50" r="2.15" fill="none" stroke="#222" stroke-width="0.9"/>
<circle cx="102.40" cy="69.20" r="2.15" fill="none" stroke="#222" stroke-width="0.9"/>
<circle cx="103.90" cy="55.20" r="2.15" fill="none" stroke="#222" stroke-width="0.9"/>
<circle cx="101.90" cy="57.80" r="2.15" fill="none" stroke="#222" stroke-width="0.9"/>
<circle cx="107.70" cy="64.30" r="2.15" fill="none" stroke="#222" stroke-width="0.9"/>
<circle cx="108.40" cy="68.10" r="2.15" fill="none" stroke="#222" stroke-width="0.9"/>
<circle cx="112.60" cy="69.20" r="2.15" fill="none" stroke="#222" stroke-width="0.9"/>
<circle cx="100.90" cy="39.40" r="2.15" fill="none" stroke="#222" stroke-width="0.9"/>
<circle cx="114.70" cy="45.50" r="2.15" fill="none" stroke="#222" stroke-width="0.9"/>
<circle cx="131.00" cy="55.00" r="2.15" fill="none" stroke="#222" stroke-width="0.9"/>
<circle cx="131.00" cy="61.70" r="2.15" fill="none" stroke="#222" stroke-width="0.9"/>
<circle cx="134.30" cy="68.40" r="2.15" fill="none" stroke="#222" stroke-width="0.9"/>
<circle cx="144.40" cy="68.40" r="2.15" fill="none" stroke="#222" stroke-width="0.9"/>
<circle cx="150.20" cy="59.20" r="2.15" fill="none" stroke="#222" stroke-width="0.9"/>
<circle cx="154.40" cy="33.80" r="2.15" fill="none" stroke="#222" stroke-width="0.9"/>
<circle cx="164.70" cy="39.10" r="2.15" fill="none" stroke="#222" stroke-width="0.9"/>
<circle cx="178.50" cy="49.20" r="2.15" fill="none" stroke="#222" stroke-width="0.9"/>
<circle cx="159.70" cy="69.30" r="2.15" fill="none" stroke="#222" stroke-width="0.9"/>
<circle cx="247.70" cy="22.40" r="2.15" fill="none" stroke="#222" stroke-width="0.9"/>
<circle cx="249.40" cy="68.40" r="2.15" fill="none" stroke="#222" stroke-width="0.9"/>
<circle cx="42.00" cy="130.20" r="2.2" fill="none" stroke="#1cb43a" stroke-width="1.1"/>
<circle cx="58.80" cy="145.30" r="2.2" fill="none" stroke="#1cb43a" stroke-width="1.1"/>
<circle cx="64.50" cy="118.20" r="2.2" fill="none" stroke="#1cb43a" stroke-width="1.1"/>
<circle cx="65.30" cy="141.10" r="2.2" fill="none" stroke="#1cb43a" stroke-width="1.1"/>
<circle cx="66.00" cy="145.30" r="2.2" fill="none" stroke="#1cb43a" stroke-width="1.1"/>
<circle cx="69.90" cy="101.80" r="2.2" fill="none" stroke="#1cb43a" stroke-width="1.1"/>
<circle cx="81.90" cy="138.90" r="2.2" fill="none" stroke="#1cb43a" stroke-width="1.1"/>
<circle cx="82.80" cy="99.00" r="2.2" fill="none" stroke="#1cb43a" stroke-width="1.1"/>
<circle cx="90.40" cy="99.00" r="2.2" fill="none" stroke="#1cb43a" stroke-width="1.1"/>
<circle cx="91.10" cy="133.30" r="2.2" fill="none" stroke="#1cb43a" stroke-width="1.1"/>
<circle cx="97.60" cy="140.50" r="2.2" fill="none" stroke="#1cb43a" stroke-width="1.1"/>
<circle cx="100.90" cy="96.40" r="2.2" fill="none" stroke="#1cb43a" stroke-width="1.1"/>
<circle cx="101.60" cy="113.80" r="2.2" fill="none" stroke="#1cb43a" stroke-width="1.1"/>
<circle cx="102.70" cy="145.30" r="2.2" fill="none" stroke="#1cb43a" stroke-width="1.1"/>
<circle cx="103.80" cy="109.50" r="2.2" fill="none" stroke="#1cb43a" stroke-width="1.1"/>
<circle cx="107.00" cy="130.60" r="2.2" fill="none" stroke="#1cb43a" stroke-width="1.1"/>
<circle cx="108.10" cy="140.00" r="2.2" fill="none" stroke="#1cb43a" stroke-width="1.1"/>
<circle cx="111.80" cy="145.30" r="2.2" fill="none" stroke="#1cb43a" stroke-width="1.1"/>
<circle cx="114.70" cy="145.30" r="2.2" fill="none" stroke="#1cb43a" stroke-width="1.1"/>
<circle cx="114.70" cy="99.40" r="2.2" fill="none" stroke="#1cb43a" stroke-width="1.1"/>
<circle cx="130.20" cy="113.40" r="2.2" fill="none" stroke="#1cb43a" stroke-width="1.1"/>
<circle cx="131.60" cy="122.60" r="2.2" fill="none" stroke="#1cb43a" stroke-width="1.1"/>
<circle cx="134.00" cy="145.20" r="2.2" fill="none" stroke="#1cb43a" stroke-width="1.1"/>
<circle cx="144.40" cy="145.20" r="2.2" fill="none" stroke="#1cb43a" stroke-width="1.1"/>
<circle cx="149.70" cy="118.30" r="2.2" fill="none" stroke="#1cb43a" stroke-width="1.1"/>
<circle cx="155.00" cy="96.20" r="2.2" fill="none" stroke="#1cb43a" stroke-width="1.1"/>
<circle cx="159.60" cy="145.20" r="2.2" fill="none" stroke="#1cb43a" stroke-width="1.1"/>
<circle cx="164.20" cy="96.60" r="2.2" fill="none" stroke="#1cb43a" stroke-width="1.1"/>
<circle cx="178.10" cy="101.80" r="2.2" fill="none" stroke="#1cb43a" stroke-width="1.1"/>
<circle cx="247.10" cy="99.00" r="2.2" fill="none" stroke="#1cb43a" stroke-width="1.1"/>
<circle cx="249.80" cy="145.50" r="2.2" fill="none" stroke="#1cb43a" stroke-width="1.1"/>
<circle cx="42.00" cy="216.10" r="2.2" fill="none" stroke="#30308a" stroke-width="1.0"/>
<circle cx="58.80" cy="207.40" r="2.2" fill="none" stroke="#30308a" stroke-width="1.0"/>
<circle cx="64.50" cy="219.20" r="2.2" fill="none" stroke="#30308a" stroke-width="1.0"/>
<circle cx="65.30" cy="210.00" r="2.2" fill="none" stroke="#30308a" stroke-width="1.0"/>
<circle cx="66.00" cy="207.40" r="2.2" fill="none" stroke="#30308a" stroke-width="1.0"/>
<circle cx="69.90" cy="213.70" r="2.2" fill="none" stroke="#30308a" stroke-width="1.0"/>
<circle cx="82.40" cy="167.90" r="2.2" fill="none" stroke="#30308a" stroke-width="1.0"/>
<circle cx="82.40" cy="211.80" r="2.2" fill="none" stroke="#30308a" stroke-width="1.0"/>
<circle cx="90.40" cy="209.30" r="2.2" fill="none" stroke="#30308a" stroke-width="1.0"/>
<circle cx="91.10" cy="215.00" r="2.2" fill="none" stroke="#30308a" stroke-width="1.0"/>
<circle cx="97.60" cy="210.70" r="2.2" fill="none" stroke="#30308a" stroke-width="1.0"/>
<circle cx="100.90" cy="201.70" r="2.2" fill="none" stroke="#30308a" stroke-width="1.0"/>
<circle cx="102.00" cy="207.80" r="2.2" fill="none" stroke="#30308a" stroke-width="1.0"/>
<circle cx="101.60" cy="219.20" r="2.2" fill="none" stroke="#30308a" stroke-width="1.0"/>
<circle cx="104.20" cy="218.10" r="2.2" fill="none" stroke="#30308a" stroke-width="1.0"/>
<circle cx="107.50" cy="215.90" r="2.2" fill="none" stroke="#30308a" stroke-width="1.0"/>
<circle cx="108.10" cy="211.10" r="2.2" fill="none" stroke="#30308a" stroke-width="1.0"/>
<circle cx="112.50" cy="207.20" r="2.2" fill="none" stroke="#30308a" stroke-width="1.0"/>
<circle cx="114.70" cy="210.00" r="2.2" fill="none" stroke="#30308a" stroke-width="1.0"/>
<circle cx="114.70" cy="207.20" r="2.2" fill="none" stroke="#30308a" stroke-width="1.0"/>
<circle cx="130.40" cy="219.20" r="2.2" fill="none" stroke="#30308a" stroke-width="1.0"/>
<circle cx="131.50" cy="218.70" r="2.2" fill="none" stroke="#30308a" stroke-width="1.0"/>
<circle cx="134.10" cy="207.40" r="2.2" fill="none" stroke="#30308a" stroke-width="1.0"/>
<circle cx="144.40" cy="207.70" r="2.2" fill="none" stroke="#30308a" stroke-width="1.0"/>
<circle cx="149.50" cy="219.20" r="2.2" fill="none" stroke="#30308a" stroke-width="1.0"/>
<circle cx="155.10" cy="192.10" r="2.2" fill="none" stroke="#30308a" stroke-width="1.0"/>
<circle cx="159.50" cy="207.70" r="2.2" fill="none" stroke="#30308a" stroke-width="1.0"/>
<circle cx="164.40" cy="201.70" r="2.2" fill="none" stroke="#30308a" stroke-width="1.0"/>
<circle cx="178.40" cy="213.90" r="2.2" fill="none" stroke="#30308a" stroke-width="1.0"/>
<circle cx="247.10" cy="167.70" r="2.2" fill="none" stroke="#30308a" stroke-width="1.0"/>
<circle cx="249.80" cy="207.70" r="2.2" fill="none" stroke="#30308a" stroke-width="1.0"/>
<circle cx="42.00" cy="285.70" r="2.2" fill="none" stroke="#c030c0" stroke-width="1.0"/>
<circle cx="58.80" cy="296.40" r="2.2" fill="none" stroke="#c030c0" stroke-width="1.0"/>
<circle cx="64.50" cy="276.90" r="2.2" fill="none" stroke="#c030c0" stroke-width="1.0"/>
<circle cx="65.30" cy="293.30" r="2.2" fill="none" stroke="#c030c0" stroke-width="1.0"/>
<circle cx="66.00" cy="296.40" r="2.2" fill="none" stroke="#c030c0" stroke-width="1.0"/>
<circle cx="69.90" cy="262.50" r="2.2" fill="none" stroke="#c030c0" stroke-width="1.0"/>
<circle cx="82.40" cy="292.00" r="2.2" fill="none" stroke="#c030c0" stroke-width="1.0"/>
<circle cx="82.40" cy="245.10" r="2.2" fill="none" stroke="#c030c0" stroke-width="1.0"/>
<circle cx="90.40" cy="258.80" r="2.2" fill="none" stroke="#c030c0" stroke-width="1.0"/>
<circle cx="91.10" cy="288.30" r="2.2" fill="none" stroke="#c030c0" stroke-width="1.0"/>
<circle cx="97.60" cy="293.30" r="2.2" fill="none" stroke="#c030c0" stroke-width="1.0"/>
<circle cx="100.90" cy="253.80" r="2.2" fill="none" stroke="#c030c0" stroke-width="1.0"/>
<circle cx="102.00" cy="273.40" r="2.2" fill="none" stroke="#c030c0" stroke-width="1.0"/>
<circle cx="102.70" cy="296.40" r="2.2" fill="none" stroke="#c030c0" stroke-width="1.0"/>
<circle cx="103.80" cy="270.20" r="2.2" fill="none" stroke="#c030c0" stroke-width="1.0"/>
<circle cx="107.50" cy="286.10" r="2.2" fill="none" stroke="#c030c0" stroke-width="1.0"/>
<circle cx="108.10" cy="293.10" r="2.2" fill="none" stroke="#c030c0" stroke-width="1.0"/>
<circle cx="112.50" cy="296.40" r="2.2" fill="none" stroke="#c030c0" stroke-width="1.0"/>
<circle cx="114.70" cy="296.40" r="2.2" fill="none" stroke="#c030c0" stroke-width="1.0"/>
<circle cx="114.70" cy="259.50" r="2.2" fill="none" stroke="#c030c0" stroke-width="1.0"/>
<circle cx="130.40" cy="273.40" r="2.2" fill="none" stroke="#c030c0" stroke-width="1.0"/>
<circle cx="131.50" cy="280.60" r="2.2" fill="none" stroke="#c030c0" stroke-width="1.0"/>
<circle cx="134.10" cy="296.40" r="2.2" fill="none" stroke="#c030c0" stroke-width="1.0"/>
<circle cx="144.40" cy="296.20" r="2.2" fill="none" stroke="#c030c0" stroke-width="1.0"/>
<circle cx="149.50" cy="277.00" r="2.2" fill="none" stroke="#c030c0" stroke-width="1.0"/>
<circle cx="155.10" cy="250.10" r="2.2" fill="none" stroke="#c030c0" stroke-width="1.0"/>
<circle cx="159.50" cy="296.00" r="2.2" fill="none" stroke="#c030c0" stroke-width="1.0"/>
<circle cx="164.40" cy="253.80" r="2.2" fill="none" stroke="#c030c0" stroke-width="1.0"/>
<circle cx="178.40" cy="262.30" r="2.2" fill="none" stroke="#c030c0" stroke-width="1.0"/>
<circle cx="247.10" cy="245.00" r="2.2" fill="none" stroke="#c030c0" stroke-width="1.0"/>
<circle cx="249.80" cy="296.00" r="2.2" fill="none" stroke="#c030c0" stroke-width="1.0"/>
<circle cx="42.00" cy="361.70" r="2.2" fill="none" stroke="#222" stroke-width="0.9"/>
<circle cx="58.80" cy="359.50" r="2.2" fill="none" stroke="#222" stroke-width="0.9"/>
<circle cx="64.50" cy="360.80" r="2.2" fill="none" stroke="#222" stroke-width="0.9"/>
<circle cx="65.30" cy="360.20" r="2.2" fill="none" stroke="#222" stroke-width="0.9"/>
<circle cx="66.00" cy="361.30" r="2.2" fill="none" stroke="#222" stroke-width="0.9"/>
<circle cx="69.90" cy="353.00" r="2.2" fill="none" stroke="#222" stroke-width="0.9"/>
<circle cx="82.40" cy="313.30" r="2.2" fill="none" stroke="#222" stroke-width="0.9"/>
<circle cx="82.40" cy="360.80" r="2.2" fill="none" stroke="#222" stroke-width="0.9"/>
<circle cx="90.40" cy="349.50" r="2.2" fill="none" stroke="#222" stroke-width="0.9"/>
<circle cx="91.10" cy="361.70" r="2.2" fill="none" stroke="#222" stroke-width="0.9"/>
<circle cx="97.60" cy="360.60" r="2.2" fill="none" stroke="#222" stroke-width="0.9"/>
<circle cx="100.90" cy="341.60" r="2.2" fill="none" stroke="#222" stroke-width="0.9"/>
<circle cx="102.00" cy="360.20" r="2.2" fill="none" stroke="#222" stroke-width="0.9"/>
<circle cx="104.20" cy="358.40" r="2.2" fill="none" stroke="#222" stroke-width="0.9"/>
<circle cx="107.50" cy="361.70" r="2.2" fill="none" stroke="#222" stroke-width="0.9"/>
<circle cx="108.10" cy="360.60" r="2.2" fill="none" stroke="#222" stroke-width="0.9"/>
<circle cx="112.50" cy="359.50" r="2.2" fill="none" stroke="#222" stroke-width="0.9"/>
<circle cx="114.70" cy="359.50" r="2.2" fill="none" stroke="#222" stroke-width="0.9"/>
<circle cx="114.70" cy="349.90" r="2.2" fill="none" stroke="#222" stroke-width="0.9"/>
<circle cx="130.40" cy="360.20" r="2.2" fill="none" stroke="#222" stroke-width="0.9"/>
<circle cx="131.50" cy="361.70" r="2.2" fill="none" stroke="#222" stroke-width="0.9"/>
<circle cx="134.10" cy="359.50" r="2.2" fill="none" stroke="#222" stroke-width="0.9"/>
<circle cx="144.40" cy="359.20" r="2.2" fill="none" stroke="#222" stroke-width="0.9"/>
<circle cx="149.50" cy="360.80" r="2.2" fill="none" stroke="#222" stroke-width="0.9"/>
<circle cx="155.10" cy="333.00" r="2.2" fill="none" stroke="#222" stroke-width="0.9"/>
<circle cx="159.50" cy="359.00" r="2.2" fill="none" stroke="#222" stroke-width="0.9"/>
<circle cx="164.40" cy="341.30" r="2.2" fill="none" stroke="#222" stroke-width="0.9"/>
<circle cx="178.40" cy="353.00" r="2.2" fill="none" stroke="#222" stroke-width="0.9"/>
<circle cx="247.10" cy="313.10" r="2.2" fill="none" stroke="#222" stroke-width="0.9"/>
<circle cx="249.80" cy="359.00" r="2.2" fill="none" stroke="#222" stroke-width="0.9"/>
<circle cx="338.40" cy="56.80" r="2.15" fill="none" stroke="#222" stroke-width="0.9"/>
<circle cx="359.60" cy="71.20" r="2.15" fill="none" stroke="#222" stroke-width="0.9"/>
<circle cx="362.60" cy="41.60" r="2.15" fill="none" stroke="#222" stroke-width="0.9"/>
<circle cx="369.90" cy="66.50" r="2.15" fill="none" stroke="#222" stroke-width="0.9"/>
<circle cx="377.60" cy="24.90" r="2.15" fill="none" stroke="#222" stroke-width="0.9"/>
<circle cx="376.30" cy="41.60" r="2.15" fill="none" stroke="#222" stroke-width="0.9"/>
<circle cx="377.60" cy="63.40" r="2.15" fill="none" stroke="#222" stroke-width="0.9"/>
<circle cx="385.50" cy="69.80" r="2.15" fill="none" stroke="#222" stroke-width="0.9"/>
<circle cx="390.80" cy="50.60" r="2.15" fill="none" stroke="#222" stroke-width="0.9"/>
<circle cx="391.80" cy="47.00" r="2.15" fill="none" stroke="#222" stroke-width="0.9"/>
<circle cx="392.30" cy="59.20" r="2.15" fill="none" stroke="#222" stroke-width="0.9"/>
<circle cx="413.40" cy="66.40" r="2.15" fill="none" stroke="#222" stroke-width="0.9"/>
<circle cx="424.00" cy="35.50" r="2.15" fill="none" stroke="#222" stroke-width="0.9"/>
<circle cx="424.00" cy="47.70" r="2.15" fill="none" stroke="#222" stroke-width="0.9"/>
<circle cx="427.40" cy="69.80" r="2.15" fill="none" stroke="#222" stroke-width="0.9"/>
<circle cx="428.90" cy="67.50" r="2.15" fill="none" stroke="#222" stroke-width="0.9"/>
<circle cx="432.70" cy="69.80" r="2.15" fill="none" stroke="#222" stroke-width="0.9"/>
<circle cx="435.80" cy="69.80" r="2.15" fill="none" stroke="#222" stroke-width="0.9"/>
<circle cx="448.40" cy="71.00" r="2.15" fill="none" stroke="#222" stroke-width="0.9"/>
<circle cx="456.00" cy="59.40" r="2.15" fill="none" stroke="#222" stroke-width="0.9"/>
<circle cx="462.00" cy="50.80" r="2.15" fill="none" stroke="#222" stroke-width="0.9"/>
<circle cx="463.70" cy="70.70" r="2.15" fill="none" stroke="#222" stroke-width="0.9"/>
<circle cx="467.80" cy="61.30" r="2.15" fill="none" stroke="#222" stroke-width="0.9"/>
<circle cx="473.20" cy="61.30" r="2.15" fill="none" stroke="#222" stroke-width="0.9"/>
<circle cx="472.50" cy="70.70" r="2.15" fill="none" stroke="#222" stroke-width="0.9"/>
<circle cx="516.80" cy="71.20" r="2.15" fill="none" stroke="#222" stroke-width="0.9"/>
<circle cx="521.90" cy="71.20" r="2.15" fill="none" stroke="#222" stroke-width="0.9"/>
<circle cx="337.90" cy="111.70" r="2.2" fill="none" stroke="#1cb43a" stroke-width="1.1"/>
<circle cx="359.70" cy="145.30" r="2.2" fill="none" stroke="#1cb43a" stroke-width="1.1"/>
<circle cx="362.40" cy="99.70" r="2.2" fill="none" stroke="#1cb43a" stroke-width="1.1"/>
<circle cx="369.30" cy="131.10" r="2.2" fill="none" stroke="#1cb43a" stroke-width="1.1"/>
<circle cx="376.50" cy="99.40" r="2.2" fill="none" stroke="#1cb43a" stroke-width="1.1"/>
<circle cx="378.10" cy="102.30" r="2.2" fill="none" stroke="#1cb43a" stroke-width="1.1"/>
<circle cx="378.10" cy="124.10" r="2.2" fill="none" stroke="#1cb43a" stroke-width="1.1"/>
<circle cx="385.30" cy="141.60" r="2.2" fill="none" stroke="#1cb43a" stroke-width="1.1"/>
<circle cx="386.80" cy="145.30" r="2.2" fill="none" stroke="#1cb43a" stroke-width="1.1"/>
<circle cx="391.20" cy="104.50" r="2.2" fill="none" stroke="#1cb43a" stroke-width="1.1"/>
<circle cx="392.50" cy="101.80" r="2.2" fill="none" stroke="#1cb43a" stroke-width="1.1"/>
<circle cx="392.00" cy="115.80" r="2.2" fill="none" stroke="#1cb43a" stroke-width="1.1"/>
<circle cx="413.60" cy="131.30" r="2.2" fill="none" stroke="#1cb43a" stroke-width="1.1"/>
<circle cx="423.00" cy="99.40" r="2.2" fill="none" stroke="#1cb43a" stroke-width="1.1"/>
<circle cx="423.90" cy="102.30" r="2.2" fill="none" stroke="#1cb43a" stroke-width="1.1"/>
<circle cx="427.80" cy="140.50" r="2.2" fill="none" stroke="#1cb43a" stroke-width="1.1"/>
<circle cx="427.80" cy="145.30" r="2.2" fill="none" stroke="#1cb43a" stroke-width="1.1"/>
<circle cx="429.10" cy="134.10" r="2.2" fill="none" stroke="#1cb43a" stroke-width="1.1"/>
<circle cx="432.50" cy="140.50" r="2.2" fill="none" stroke="#1cb43a" stroke-width="1.1"/>
<circle cx="435.90" cy="139.10" r="2.2" fill="none" stroke="#1cb43a" stroke-width="1.1"/>
<circle cx="435.50" cy="145.00" r="2.2" fill="none" stroke="#1cb43a" stroke-width="1.1"/>
<circle cx="448.40" cy="145.00" r="2.2" fill="none" stroke="#1cb43a" stroke-width="1.1"/>
<circle cx="455.20" cy="115.20" r="2.2" fill="none" stroke="#1cb43a" stroke-width="1.1"/>
<circle cx="462.00" cy="104.50" r="2.2" fill="none" stroke="#1cb43a" stroke-width="1.1"/>
<circle cx="463.90" cy="145.00" r="2.2" fill="none" stroke="#1cb43a" stroke-width="1.1"/>
<circle cx="467.70" cy="119.80" r="2.2" fill="none" stroke="#1cb43a" stroke-width="1.1"/>
<circle cx="473.40" cy="119.80" r="2.2" fill="none" stroke="#1cb43a" stroke-width="1.1"/>
<circle cx="472.70" cy="145.00" r="2.2" fill="none" stroke="#1cb43a" stroke-width="1.1"/>
<circle cx="516.60" cy="145.00" r="2.2" fill="none" stroke="#1cb43a" stroke-width="1.1"/>
<circle cx="522.30" cy="145.00" r="2.2" fill="none" stroke="#1cb43a" stroke-width="1.1"/>
<circle cx="337.90" cy="215.00" r="2.2" fill="none" stroke="#30308a" stroke-width="1.0"/>
<circle cx="359.70" cy="205.40" r="2.2" fill="none" stroke="#30308a" stroke-width="1.0"/>
<circle cx="362.40" cy="199.90" r="2.2" fill="none" stroke="#30308a" stroke-width="1.0"/>
<circle cx="369.30" cy="213.00" r="2.2" fill="none" stroke="#30308a" stroke-width="1.0"/>
<circle cx="376.50" cy="199.70" r="2.2" fill="none" stroke="#30308a" stroke-width="1.0"/>
<circle cx="378.10" cy="169.40" r="2.2" fill="none" stroke="#30308a" stroke-width="1.0"/>
<circle cx="378.10" cy="215.00" r="2.2" fill="none" stroke="#30308a" stroke-width="1.0"/>
<circle cx="385.30" cy="207.60" r="2.2" fill="none" stroke="#30308a" stroke-width="1.0"/>
<circle cx="387.50" cy="205.40" r="2.2" fill="none" stroke="#30308a" stroke-width="1.0"/>
<circle cx="391.20" cy="210.80" r="2.2" fill="none" stroke="#30308a" stroke-width="1.0"/>
<circle cx="392.00" cy="206.90" r="2.2" fill="none" stroke="#30308a" stroke-width="1.0"/>
<circle cx="392.00" cy="215.60" r="2.2" fill="none" stroke="#30308a" stroke-width="1.0"/>
<circle cx="413.60" cy="213.00" r="2.2" fill="none" stroke="#30308a" stroke-width="1.0"/>
<circle cx="423.50" cy="191.20" r="2.2" fill="none" stroke="#30308a" stroke-width="1.0"/>
<circle cx="423.90" cy="207.60" r="2.2" fill="none" stroke="#30308a" stroke-width="1.0"/>
<circle cx="427.20" cy="205.80" r="2.2" fill="none" stroke="#30308a" stroke-width="1.0"/>
<circle cx="428.00" cy="205.30" r="2.2" fill="none" stroke="#30308a" stroke-width="1.0"/>
<circle cx="429.10" cy="211.60" r="2.2" fill="none" stroke="#30308a" stroke-width="1.0"/>
<circle cx="424.50" cy="208.20" r="2.2" fill="none" stroke="#30308a" stroke-width="1.0"/>
<circle cx="432.50" cy="208.20" r="2.2" fill="none" stroke="#30308a" stroke-width="1.0"/>
<circle cx="435.50" cy="205.30" r="2.2" fill="none" stroke="#30308a" stroke-width="1.0"/>
<circle cx="436.40" cy="208.90" r="2.2" fill="none" stroke="#30308a" stroke-width="1.0"/>
<circle cx="449.10" cy="205.30" r="2.2" fill="none" stroke="#30308a" stroke-width="1.0"/>
<circle cx="455.20" cy="215.50" r="2.2" fill="none" stroke="#30308a" stroke-width="1.0"/>
<circle cx="462.00" cy="210.50" r="2.2" fill="none" stroke="#30308a" stroke-width="1.0"/>
<circle cx="463.90" cy="205.30" r="2.2" fill="none" stroke="#30308a" stroke-width="1.0"/>
<circle cx="467.70" cy="215.50" r="2.2" fill="none" stroke="#30308a" stroke-width="1.0"/>
<circle cx="473.40" cy="215.50" r="2.2" fill="none" stroke="#30308a" stroke-width="1.0"/>
<circle cx="472.70" cy="205.30" r="2.2" fill="none" stroke="#30308a" stroke-width="1.0"/>
<circle cx="516.60" cy="205.30" r="2.2" fill="none" stroke="#30308a" stroke-width="1.0"/>
<circle cx="522.30" cy="205.30" r="2.2" fill="none" stroke="#30308a" stroke-width="1.0"/>
<circle cx="337.90" cy="265.40" r="2.2" fill="none" stroke="#c030c0" stroke-width="1.0"/>
<circle cx="359.70" cy="290.30" r="2.2" fill="none" stroke="#c030c0" stroke-width="1.0"/>
<circle cx="362.40" cy="250.10" r="2.2" fill="none" stroke="#c030c0" stroke-width="1.0"/>
<circle cx="369.30" cy="280.40" r="2.2" fill="none" stroke="#c030c0" stroke-width="1.0"/>
<circle cx="376.50" cy="250.10" r="2.2" fill="none" stroke="#c030c0" stroke-width="1.0"/>
<circle cx="378.10" cy="241.40" r="2.2" fill="none" stroke="#c030c0" stroke-width="1.0"/>
<circle cx="378.10" cy="275.20" r="2.2" fill="none" stroke="#c030c0" stroke-width="1.0"/>
<circle cx="385.30" cy="287.60" r="2.2" fill="none" stroke="#c030c0" stroke-width="1.0"/>
<circle cx="386.80" cy="290.30" r="2.2" fill="none" stroke="#c030c0" stroke-width="1.0"/>
<circle cx="391.20" cy="258.20" r="2.2" fill="none" stroke="#c030c0" stroke-width="1.0"/>
<circle cx="392.50" cy="254.90" r="2.2" fill="none" stroke="#c030c0" stroke-width="1.0"/>
<circle cx="392.00" cy="268.40" r="2.2" fill="none" stroke="#c030c0" stroke-width="1.0"/>
<circle cx="413.60" cy="280.40" r="2.2" fill="none" stroke="#c030c0" stroke-width="1.0"/>
<circle cx="423.00" cy="246.60" r="2.2" fill="none" stroke="#c030c0" stroke-width="1.0"/>
<circle cx="423.90" cy="255.30" r="2.2" fill="none" stroke="#c030c0" stroke-width="1.0"/>
<circle cx="427.30" cy="287.00" r="2.2" fill="none" stroke="#c030c0" stroke-width="1.0"/>
<circle cx="428.00" cy="290.50" r="2.2" fill="none" stroke="#c030c0" stroke-width="1.0"/>
<circle cx="429.10" cy="281.80" r="2.2" fill="none" stroke="#c030c0" stroke-width="1.0"/>
<circle cx="432.50" cy="286.40" r="2.2" fill="none" stroke="#c030c0" stroke-width="1.0"/>
<circle cx="435.90" cy="285.90" r="2.2" fill="none" stroke="#c030c0" stroke-width="1.0"/>
<circle cx="435.50" cy="290.50" r="2.2" fill="none" stroke="#c030c0" stroke-width="1.0"/>
<circle cx="448.40" cy="290.50" r="2.2" fill="none" stroke="#c030c0" stroke-width="1.0"/>
<circle cx="455.20" cy="268.20" r="2.2" fill="none" stroke="#c030c0" stroke-width="1.0"/>
<circle cx="462.00" cy="258.20" r="2.2" fill="none" stroke="#c030c0" stroke-width="1.0"/>
<circle cx="463.90" cy="290.50" r="2.2" fill="none" stroke="#c030c0" stroke-width="1.0"/>
<circle cx="467.70" cy="271.80" r="2.2" fill="none" stroke="#c030c0" stroke-width="1.0"/>
<circle cx="473.40" cy="271.80" r="2.2" fill="none" stroke="#c030c0" stroke-width="1.0"/>
<circle cx="472.70" cy="290.50" r="2.2" fill="none" stroke="#c030c0" stroke-width="1.0"/>
<circle cx="516.60" cy="290.50" r="2.2" fill="none" stroke="#c030c0" stroke-width="1.0"/>
<circle cx="522.30" cy="290.50" r="2.2" fill="none" stroke="#c030c0" stroke-width="1.0"/>
<circle cx="337.90" cy="356.40" r="2.2" fill="none" stroke="#222" stroke-width="0.9"/>
<circle cx="359.70" cy="357.50" r="2.2" fill="none" stroke="#222" stroke-width="0.9"/>
<circle cx="362.40" cy="339.60" r="2.2" fill="none" stroke="#222" stroke-width="0.9"/>
<circle cx="369.30" cy="359.60" r="2.2" fill="none" stroke="#222" stroke-width="0.9"/>
<circle cx="376.50" cy="339.60" r="2.2" fill="none" stroke="#222" stroke-width="0.9"/>
<circle cx="378.10" cy="311.60" r="2.2" fill="none" stroke="#222" stroke-width="0.9"/>
<circle cx="378.10" cy="359.60" r="2.2" fill="none" stroke="#222" stroke-width="0.9"/>
<circle cx="385.30" cy="357.90" r="2.2" fill="none" stroke="#222" stroke-width="0.9"/>
<circle cx="387.50" cy="357.00" r="2.2" fill="none" stroke="#222" stroke-width="0.9"/>
<circle cx="391.20" cy="351.30" r="2.2" fill="none" stroke="#222" stroke-width="0.9"/>
<circle cx="392.00" cy="347.60" r="2.2" fill="none" stroke="#222" stroke-width="0.9"/>
<circle cx="392.00" cy="357.90" r="2.2" fill="none" stroke="#222" stroke-width="0.9"/>
<circle cx="413.60" cy="359.60" r="2.2" fill="none" stroke="#222" stroke-width="0.9"/>
<circle cx="423.50" cy="331.30" r="2.2" fill="none" stroke="#222" stroke-width="0.9"/>
<circle cx="424.10" cy="347.70" r="2.2" fill="none" stroke="#222" stroke-width="0.9"/>
<circle cx="428.00" cy="357.50" r="2.2" fill="none" stroke="#222" stroke-width="0.9"/>
<circle cx="432.50" cy="359.00" r="2.2" fill="none" stroke="#222" stroke-width="0.9"/>
<circle cx="436.40" cy="358.40" r="2.2" fill="none" stroke="#222" stroke-width="0.9"/>
<circle cx="435.50" cy="357.90" r="2.2" fill="none" stroke="#222" stroke-width="0.9"/>
<circle cx="449.10" cy="357.50" r="2.2" fill="none" stroke="#222" stroke-width="0.9"/>
<circle cx="455.20" cy="357.90" r="2.2" fill="none" stroke="#222" stroke-width="0.9"/>
<circle cx="462.00" cy="351.10" r="2.2" fill="none" stroke="#222" stroke-width="0.9"/>
<circle cx="463.90" cy="357.50" r="2.2" fill="none" stroke="#222" stroke-width="0.9"/>
<circle cx="467.70" cy="359.00" r="2.2" fill="none" stroke="#222" stroke-width="0.9"/>
<circle cx="473.40" cy="359.00" r="2.2" fill="none" stroke="#222" stroke-width="0.9"/>
<circle cx="472.70" cy="357.50" r="2.2" fill="none" stroke="#222" stroke-width="0.9"/>
<circle cx="516.60" cy="357.50" r="2.2" fill="none" stroke="#222" stroke-width="0.9"/>
<circle cx="522.30" cy="357.50" r="2.2" fill="none" stroke="#222" stroke-width="0.9"/>
<text x="169.30" y="26.02" font-size="6.75" font-weight="bold" fill="#111" stroke="#111" stroke-width="0.13" text-anchor="start">Theory. (Ching et al)</text>
<text x="172.60" y="75.37" font-size="8.05" font-weight="bold" fill="#111" stroke="#111" stroke-width="0.13" text-anchor="start">y = 12.01x + 118.43</text>
<text x="176.60" y="93.52" font-size="6.75" font-weight="bold" fill="#111" stroke="#111" stroke-width="0.13" text-anchor="start">Theory. (Leeuw et al)</text>
<text x="168.00" y="134.37" font-size="8.05" font-weight="bold" fill="#10c810" stroke="#10c810" stroke-width="0.13" text-anchor="start">y = 12.63x + 113.94</text>
<text x="161.10" y="176.72" font-size="6.75" font-weight="bold" fill="#111" stroke="#111" stroke-width="0.13" text-anchor="start">Experiment. (Katz et al)</text>
<text x="168.80" y="192.27" font-size="8.05" font-weight="bold" fill="#1a1a9a" stroke="#1a1a9a" stroke-width="0.13" text-anchor="start">y = 18.24x + 109.54</text>
<text x="173.30" y="249.92" font-size="6.75" font-weight="bold" fill="#111" stroke="#111" stroke-width="0.13" text-anchor="start">Theory. (This study)</text>
<text x="171.10" y="287.17" font-size="8.05" font-weight="bold" fill="#c800c0" stroke="#c800c0" stroke-width="0.13" text-anchor="start">y = 14.21x + 118.62</text>
<text x="164.80" y="324.32" font-size="6.75" font-weight="bold" fill="#111" stroke="#111" stroke-width="0.13" text-anchor="start">Experiment. (This study)</text>
<text x="173.30" y="336.27" font-size="8.05" font-weight="bold" fill="#111" stroke="#111" stroke-width="0.13" text-anchor="start">y = 22.58x + 108.15</text>
<text x="533.60" y="27.22" font-size="6.75" font-weight="bold" fill="#111" stroke="#111" stroke-width="0.13" text-anchor="end">Theory. (Ching et al)</text>
<text x="539.30" y="36.77" font-size="8.05" font-weight="bold" fill="#111" stroke="#111" stroke-width="0.13" text-anchor="end">y = -26.34x + 127.51</text>
<text x="537.70" y="92.12" font-size="6.75" font-weight="bold" fill="#111" stroke="#111" stroke-width="0.13" text-anchor="end">Theory. (Leeuw et al)</text>
<text x="540.00" y="100.37" font-size="8.05" font-weight="bold" fill="#10c810" stroke="#10c810" stroke-width="0.13" text-anchor="end">y = -50.79x + 128.91</text>
<text x="538.20" y="168.92" font-size="6.75" font-weight="bold" fill="#111" stroke="#111" stroke-width="0.13" text-anchor="end">Experiment. (Katz et al)</text>
<text x="538.90" y="180.27" font-size="8.05" font-weight="bold" fill="#1a1a9a" stroke="#1a1a9a" stroke-width="0.13" text-anchor="end">y = -15.26x + 117.52</text>
<text x="536.40" y="238.22" font-size="6.75" font-weight="bold" fill="#111" stroke="#111" stroke-width="0.13" text-anchor="end">Theory. (This study)</text>
<text x="539.30" y="247.77" font-size="8.05" font-weight="bold" fill="#c800c0" stroke="#c800c0" stroke-width="0.13" text-anchor="end">y = -41.33x + 131.74</text>
<text x="535.50" y="310.22" font-size="6.75" font-weight="bold" fill="#111" stroke="#111" stroke-width="0.13" text-anchor="end">Experiment. (This study)</text>
<text x="533.60" y="319.77" font-size="8.05" font-weight="bold" fill="#111" stroke="#111" stroke-width="0.13" text-anchor="end">y = -32.32x + 121.17</text>
<text x="42.90" y="57.17" font-size="6.3" font-weight="bold" fill="#161616" stroke="#161616" stroke-width="0.18" text-anchor="middle" transform="rotate(-90 42.90 55.00)">(332)</text>
<text x="64.60" y="53.17" font-size="6.3" font-weight="bold" fill="#161616" stroke="#161616" stroke-width="0.18" text-anchor="middle" transform="rotate(-90 64.60 51.00)">(222)</text>
<text x="71.00" y="42.37" font-size="6.3" font-weight="bold" fill="#161616" stroke="#161616" stroke-width="0.18" text-anchor="middle" transform="rotate(-90 71.00 40.20)">(202)</text>
<text x="90.00" y="37.79" font-size="5.2" font-weight="normal" fill="#161616" stroke="#161616" stroke-width="0.24" text-anchor="middle" transform="rotate(-90 90.00 36.00)">(117)</text>
<text x="42.30" y="75.60" font-size="6.4" font-weight="bold" fill="#161616" stroke="#161616" stroke-width="0.18" text-anchor="middle">(050)</text>
<text x="77.80" y="58.27" font-size="6.6" font-weight="bold" fill="#161616" stroke="#161616" stroke-width="0.18" text-anchor="middle">(511)</text>
<text x="83.00" y="30.03" font-size="5.6" font-weight="normal" fill="#161616" stroke="#161616" stroke-width="0.24" text-anchor="middle">(002)</text>
<text x="76.70" y="76.45" font-size="4.8" font-weight="normal" fill="#161616" stroke="#161616" stroke-width="0.24" text-anchor="middle">(230)</text>
<text x="92.40" y="76.45" font-size="4.8" font-weight="normal" fill="#161616" stroke="#161616" stroke-width="0.24" text-anchor="middle">(321)</text>
<text x="104.70" y="76.45" font-size="4.8" font-weight="normal" fill="#161616" stroke="#161616" stroke-width="0.24" text-anchor="middle">(320)</text>
<text x="125.80" y="76.45" font-size="4.8" font-weight="normal" fill="#161616" stroke="#161616" stroke-width="0.24" text-anchor="middle">(901)</text>
<text x="101.90" y="36.92" font-size="5.0" font-weight="normal" fill="#161616" stroke="#161616" stroke-width="0.24" text-anchor="middle">(023)</text>
<text x="116.80" y="37.52" font-size="5.0" font-weight="normal" fill="#161616" stroke="#161616" stroke-width="0.24" text-anchor="middle">(843)</text>
<text x="100.20" y="46.82" font-size="5.0" font-weight="normal" fill="#161616" stroke="#161616" stroke-width="0.24" text-anchor="middle">(331)</text>
<text x="89.90" y="52.88" font-size="4.6" font-weight="normal" fill="#161616" stroke="#161616" stroke-width="0.24" text-anchor="middle">(301)</text>
<text x="122.20" y="53.42" font-size="5.0" font-weight="normal" fill="#161616" stroke="#161616" stroke-width="0.24" text-anchor="middle">(143)</text>
<text x="120.10" y="64.32" font-size="5.0" font-weight="normal" fill="#161616" stroke="#161616" stroke-width="0.24" text-anchor="middle">(211)</text>
<text x="125.00" y="68.65" font-size="4.8" font-weight="normal" fill="#161616" stroke="#161616" stroke-width="0.24" text-anchor="middle">(201)</text>
<text x="130.50" y="50.02" font-size="5.0" font-weight="normal" fill="#161616" stroke="#161616" stroke-width="0.24" text-anchor="middle" transform="rotate(-90 130.50 48.30)">(632)</text>
<text x="140.60" y="49.22" font-size="5.0" font-weight="normal" fill="#161616" stroke="#161616" stroke-width="0.24" text-anchor="middle">(042)</text>
<text x="153.10" y="47.52" font-size="5.0" font-weight="normal" fill="#161616" stroke="#161616" stroke-width="0.24" text-anchor="middle">(111)</text>
<text x="141.70" y="62.62" font-size="5.0" font-weight="normal" fill="#161616" stroke="#161616" stroke-width="0.24" text-anchor="middle">(110)</text>
<text x="155.40" y="30.82" font-size="5.0" font-weight="normal" fill="#161616" stroke="#161616" stroke-width="0.24" text-anchor="middle">(102)</text>
<text x="165.30" y="36.12" font-size="5.0" font-weight="normal" fill="#161616" stroke="#161616" stroke-width="0.24" text-anchor="middle">(124)</text>
<text x="179.90" y="46.42" font-size="5.0" font-weight="normal" fill="#161616" stroke="#161616" stroke-width="0.24" text-anchor="middle">(023)</text>
<text x="165.40" y="60.92" font-size="5.0" font-weight="normal" fill="#161616" stroke="#161616" stroke-width="0.24" text-anchor="middle">(300)</text>
<text x="185.70" y="61.32" font-size="5.0" font-weight="normal" fill="#161616" stroke="#161616" stroke-width="0.24" text-anchor="middle">(210)</text>
<text x="247.20" y="29.92" font-size="5.0" font-weight="normal" fill="#161616" stroke="#161616" stroke-width="0.24" text-anchor="middle">(004)</text>
<text x="249.90" y="62.62" font-size="5.0" font-weight="normal" fill="#161616" stroke="#161616" stroke-width="0.24" text-anchor="middle" transform="rotate(-90 249.90 60.90)">(130)</text>
<line x1="57.00" y1="70.40" x2="50.30" y2="73.20" stroke="#333" stroke-width="0.5"/>
<polygon points="50.30,73.20 51.61,71.68 52.31,73.34" fill="#333"/>
<line x1="66.60" y1="69.80" x2="70.80" y2="72.80" stroke="#333" stroke-width="1.2"/>
<polygon points="70.80,72.80 68.81,72.49 69.86,71.02" fill="#333"/>
<line x1="66.50" y1="67.20" x2="72.00" y2="59.80" stroke="#333" stroke-width="0.5"/>
<line x1="90.70" y1="64.00" x2="90.70" y2="53.50" stroke="#333" stroke-width="0.5"/>
<polygon points="90.70,53.50 91.60,55.30 89.80,55.30" fill="#333"/>
<line x1="98.30" y1="67.00" x2="98.30" y2="47.30" stroke="#333" stroke-width="0.5"/>
<polygon points="98.30,47.30 99.20,49.10 97.40,49.10" fill="#333"/>
<line x1="83.50" y1="68.60" x2="86.50" y2="71.50" stroke="#333" stroke-width="0.8"/>
<polygon points="86.50,71.50 84.58,70.90 85.83,69.60" fill="#333"/>
<line x1="105.20" y1="53.80" x2="112.50" y2="38.30" stroke="#333" stroke-width="0.5"/>
<polygon points="112.50,38.30 112.55,40.31 110.92,39.54" fill="#333"/>
<line x1="105.80" y1="56.20" x2="116.00" y2="52.20" stroke="#333" stroke-width="0.5"/>
<polygon points="116.00,52.20 114.65,53.70 114.00,52.02" fill="#333"/>
<line x1="110.00" y1="63.80" x2="114.20" y2="62.60" stroke="#333" stroke-width="0.5"/>
<polygon points="114.20,62.60 112.72,63.96 112.22,62.23" fill="#333"/>
<line x1="113.00" y1="69.80" x2="119.50" y2="73.00" stroke="#333" stroke-width="0.8"/>
<polygon points="119.50,73.00 117.49,73.01 118.28,71.40" fill="#333"/>
<line x1="150.20" y1="57.50" x2="150.20" y2="48.30" stroke="#333" stroke-width="0.5"/>
<polygon points="150.20,48.30 151.10,50.10 149.30,50.10" fill="#333"/>
<line x1="136.00" y1="67.00" x2="139.30" y2="50.00" stroke="#333" stroke-width="0.5"/>
<polygon points="139.30,50.00 139.84,51.94 138.07,51.60" fill="#333"/>
<line x1="146.30" y1="67.00" x2="157.50" y2="60.50" stroke="#333" stroke-width="0.5"/>
<polygon points="157.50,60.50 156.39,62.18 155.49,60.63" fill="#333"/>
<line x1="161.50" y1="68.30" x2="178.00" y2="61.00" stroke="#333" stroke-width="0.5"/>
<polygon points="178.00,61.00 176.72,62.55 175.99,60.91" fill="#333"/>
<text x="338.70" y="67.69" font-size="6.08" font-weight="bold" fill="#161616" stroke="#161616" stroke-width="0.12" text-anchor="middle" transform="rotate(90 338.70 65.60)">(043)</text>
<text x="359.60" y="63.71" font-size="6.56" font-weight="bold" fill="#161616" stroke="#161616" stroke-width="0.12" text-anchor="middle" transform="rotate(90 359.60 61.45)">(050)</text>
<text x="362.60" y="34.22" font-size="6.17" font-weight="bold" fill="#161616" stroke="#161616" stroke-width="0.12" text-anchor="middle" transform="rotate(90 362.60 32.10)">(023)</text>
<text x="369.90" y="74.91" font-size="4.4" font-weight="normal" fill="#161616" stroke="#161616" stroke-width="0.24" text-anchor="middle" transform="rotate(90 369.90 73.40)">(310)</text>
<text x="377.60" y="35.18" font-size="4.6" font-weight="normal" fill="#161616" stroke="#161616" stroke-width="0.24" text-anchor="middle" transform="rotate(90 377.60 33.60)">(002)</text>
<text x="376.30" y="49.48" font-size="4.0" font-weight="normal" fill="#161616" stroke="#161616" stroke-width="0.24" text-anchor="middle" transform="rotate(90 376.30 48.10)">(121)</text>
<text x="377.60" y="72.15" font-size="4.5" font-weight="normal" fill="#161616" stroke="#161616" stroke-width="0.24" text-anchor="middle" transform="rotate(90 377.60 70.60)">(211)</text>
<text x="385.50" y="63.75" font-size="4.5" font-weight="normal" fill="#161616" stroke="#161616" stroke-width="0.24" text-anchor="middle" transform="rotate(90 385.50 62.20)">(111)</text>
<text x="386.30" y="39.18" font-size="4.0" font-weight="normal" fill="#161616" stroke="#161616" stroke-width="0.24" text-anchor="middle" transform="rotate(90 386.30 37.80)">(330)</text>
<text x="392.30" y="42.08" font-size="4.6" font-weight="normal" fill="#161616" stroke="#161616" stroke-width="0.24" text-anchor="middle" transform="rotate(90 392.30 40.50)">(117)</text>
<text x="396.90" y="69.46" font-size="4.4" font-weight="normal" fill="#161616" stroke="#161616" stroke-width="0.24" text-anchor="middle" transform="rotate(90 396.90 67.95)">(321/3)</text>
<text x="413.40" y="74.86" font-size="4.4" font-weight="normal" fill="#161616" stroke="#161616" stroke-width="0.24" text-anchor="middle" transform="rotate(90 413.40 73.35)">(112)</text>
<text x="424.00" y="29.19" font-size="4.9" font-weight="bold" fill="#161616" stroke="#161616" stroke-width="0.12" text-anchor="middle" transform="rotate(90 424.00 27.50)">(102)</text>
<text x="424.00" y="56.43" font-size="4.3" font-weight="normal" fill="#161616" stroke="#161616" stroke-width="0.24" text-anchor="middle" transform="rotate(90 424.00 54.95)">(211)</text>
<text x="419.50" y="66.64" font-size="4.2" font-weight="normal" fill="#161616" stroke="#161616" stroke-width="0.24" text-anchor="middle" transform="rotate(90 419.50 65.20)">(5?)</text>
<text x="437.00" y="51.67" font-size="5.0" font-weight="bold" fill="#161616" stroke="#161616" stroke-width="0.12" text-anchor="middle" transform="rotate(90 437.00 49.95)">(501)</text>
<text x="449.50" y="50.33" font-size="4.3" font-weight="normal" fill="#161616" stroke="#161616" stroke-width="0.24" text-anchor="middle" transform="rotate(90 449.50 48.85)">(518)</text>
<text x="456.60" y="52.79" font-size="4.9" font-weight="bold" fill="#161616" stroke="#161616" stroke-width="0.12" text-anchor="middle" transform="rotate(90 456.60 51.10)">(032)</text>
<text x="476.10" y="52.14" font-size="5.2" font-weight="bold" fill="#161616" stroke="#161616" stroke-width="0.12" text-anchor="middle" transform="rotate(90 476.10 50.35)">(033)</text>
<text x="490.60" y="56.89" font-size="5.2" font-weight="bold" fill="#161616" stroke="#161616" stroke-width="0.12" text-anchor="middle" transform="rotate(90 490.60 55.10)">(210)</text>
<text x="516.10" y="64.57" font-size="5.3" font-weight="bold" fill="#161616" stroke="#161616" stroke-width="0.12" text-anchor="middle" transform="rotate(90 516.10 62.75)">(130)</text>
<text x="522.60" y="64.57" font-size="5.3" font-weight="bold" fill="#161616" stroke="#161616" stroke-width="0.12" text-anchor="middle" transform="rotate(90 522.60 62.75)">(020)</text>
<line x1="437.00" y1="56.50" x2="435.60" y2="66.30" stroke="#333" stroke-width="0.5"/>
<polygon points="435.60,66.30 434.96,64.39 436.75,64.65" fill="#333"/>
<line x1="449.50" y1="54.30" x2="448.80" y2="68.50" stroke="#333" stroke-width="0.5"/>
<polygon points="448.80,68.50 447.99,66.66 449.79,66.75" fill="#333"/>
<line x1="464.30" y1="50.40" x2="469.50" y2="48.90" stroke="#333" stroke-width="0.5"/>
<polygon points="469.50,48.90 468.02,50.26 467.52,48.53" fill="#333"/>
<line x1="475.30" y1="60.30" x2="485.50" y2="56.90" stroke="#333" stroke-width="0.5"/>
<polygon points="485.50,56.90 484.08,58.32 483.51,56.62" fill="#333"/>
<line x1="387.00" y1="43.20" x2="390.20" y2="48.50" stroke="#333" stroke-width="0.5"/>
<polygon points="390.20,48.50 388.50,47.42 390.04,46.49" fill="#333"/>
<line x1="420.50" y1="69.30" x2="426.00" y2="69.60" stroke="#333" stroke-width="0.5"/>
<polygon points="426.00,69.60 424.15,70.40 424.25,68.60" fill="#333"/>
</svg>
</body></html>
